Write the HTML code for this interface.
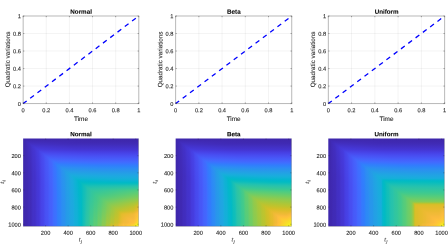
<!DOCTYPE html>
<html><head><meta charset="utf-8"><title>Figure</title><style>html,body{margin:0;padding:0;background:#fff}svg{display:block}text{stroke:#262626;stroke-width:0.1px}</style></head><body>
<svg width="448" height="252" viewBox="0 0 448 252" font-family="Liberation Sans, Arial, Helvetica, sans-serif" font-size="5.7" fill="#262626">
<rect width="448" height="252" fill="#fff"/>
<path d="M46.28 16V103.6M23.15 86.08H138.8M69.41 16V103.6M23.15 68.56H138.8M92.54 16V103.6M23.15 51.04H138.8M115.67 16V103.6M23.15 33.52H138.8" stroke="#262626" stroke-opacity="0.15" stroke-width="0.35" fill="none"/>
<path d="M23.15 103.6L135.91 18.19" stroke="#0000ff" stroke-width="1.3" stroke-dasharray="4.7 4.43" stroke-dashoffset="0.3" fill="none"/>
<rect x="23.15" y="16" width="115.65" height="87.6" fill="none" stroke="#262626" stroke-opacity="0.36" stroke-width="0.9"/>
<path d="M23.15 103.6v-1.2M23.15 16v1.2M23.15 103.6h1.2M138.8 103.6h-1.2M46.28 103.6v-1.2M46.28 16v1.2M23.15 86.08h1.2M138.8 86.08h-1.2M69.41 103.6v-1.2M69.41 16v1.2M23.15 68.56h1.2M138.8 68.56h-1.2M92.54 103.6v-1.2M92.54 16v1.2M23.15 51.04h1.2M138.8 51.04h-1.2M115.67 103.6v-1.2M115.67 16v1.2M23.15 33.52h1.2M138.8 33.52h-1.2M138.8 103.6v-1.2M138.8 16v1.2M23.15 16h1.2M138.8 16h-1.2" stroke="#262626" stroke-width="0.5" stroke-opacity="0.75" fill="none"/>
<text x="23.15" y="112.3" transform="rotate(0.1 23.15 112.3)" text-anchor="middle">0</text>
<text x="20.95" y="105.9" transform="rotate(0.1 20.95 105.9)" text-anchor="end">0</text>
<text x="46.28" y="112.3" transform="rotate(0.1 46.28 112.3)" text-anchor="middle">0.2</text>
<text x="20.95" y="88.38" transform="rotate(0.1 20.95 88.38)" text-anchor="end">0.2</text>
<text x="69.41" y="112.3" transform="rotate(0.1 69.41 112.3)" text-anchor="middle">0.4</text>
<text x="20.95" y="70.86" transform="rotate(0.1 20.95 70.86)" text-anchor="end">0.4</text>
<text x="92.54" y="112.3" transform="rotate(0.1 92.54 112.3)" text-anchor="middle">0.6</text>
<text x="20.95" y="53.34" transform="rotate(0.1 20.95 53.34)" text-anchor="end">0.6</text>
<text x="115.67" y="112.3" transform="rotate(0.1 115.67 112.3)" text-anchor="middle">0.8</text>
<text x="20.95" y="35.82" transform="rotate(0.1 20.95 35.82)" text-anchor="end">0.8</text>
<text x="138.8" y="112.3" transform="rotate(0.1 138.8 112.3)" text-anchor="middle">1</text>
<text x="20.95" y="18.3" transform="rotate(0.1 20.95 18.3)" text-anchor="end">1</text>
<text x="80.97" y="121.1" transform="rotate(0.1 80.97 121.1)" text-anchor="middle" font-size="6.4">Time</text>
<text transform="translate(9.85 59.45) rotate(-89.9)" text-anchor="middle" font-size="6.28">Quadratic variations</text>
<text x="81.12" y="13.7" transform="rotate(0.1 81.12 13.7)" text-anchor="middle" font-size="6.25" font-weight="bold" fill="#000">Normal</text>
<g>
<defs><linearGradient id="h0_1" gradientUnits="userSpaceOnUse" x1="24.46" y1="0" x2="138.5" y2="0"><stop offset="0" stop-color="#3f29b0"/><stop offset="1" stop-color="#3e27ac"/></linearGradient><linearGradient id="v0_1" href="#h0_1" x1="0" y1="139.55" x2="0" y2="226.35"/><linearGradient id="h0_2" gradientUnits="userSpaceOnUse" x1="25.77" y1="0" x2="138.5" y2="0"><stop offset="0" stop-color="#402bb6"/><stop offset="0.854" stop-color="#3f28ae"/><stop offset="1" stop-color="#3f28ae"/></linearGradient><linearGradient id="v0_2" href="#h0_2" x1="0" y1="140.55" x2="0" y2="226.35"/><linearGradient id="h0_3" gradientUnits="userSpaceOnUse" x1="27.08" y1="0" x2="138.5" y2="0"><stop offset="0" stop-color="#412cba"/><stop offset="0.559" stop-color="#3f29b1"/><stop offset="1" stop-color="#3f29b1"/></linearGradient><linearGradient id="v0_3" href="#h0_3" x1="0" y1="141.54" x2="0" y2="226.35"/><linearGradient id="h0_4" gradientUnits="userSpaceOnUse" x1="28.39" y1="0" x2="138.5" y2="0"><stop offset="0" stop-color="#422ebf"/><stop offset="0.463" stop-color="#402ab5"/><stop offset="1" stop-color="#402ab3"/></linearGradient><linearGradient id="v0_4" href="#h0_4" x1="0" y1="142.54" x2="0" y2="226.35"/><linearGradient id="h0_5" gradientUnits="userSpaceOnUse" x1="29.7" y1="0" x2="138.5" y2="0"><stop offset="0" stop-color="#4230c4"/><stop offset="0.365" stop-color="#412cb9"/><stop offset="1" stop-color="#402bb6"/></linearGradient><linearGradient id="v0_5" href="#h0_5" x1="0" y1="143.54" x2="0" y2="226.35"/><linearGradient id="h0_6" gradientUnits="userSpaceOnUse" x1="31.01" y1="0" x2="138.5" y2="0"><stop offset="0" stop-color="#4332c9"/><stop offset="0.369" stop-color="#412ebe"/><stop offset="1" stop-color="#412dbb"/></linearGradient><linearGradient id="v0_6" href="#h0_6" x1="0" y1="144.54" x2="0" y2="226.35"/><linearGradient id="h0_7" gradientUnits="userSpaceOnUse" x1="32.33" y1="0" x2="138.5" y2="0"><stop offset="0" stop-color="#4434ce"/><stop offset="0.374" stop-color="#4230c3"/><stop offset="1" stop-color="#422fc0"/></linearGradient><linearGradient id="v0_7" href="#h0_7" x1="0" y1="145.53" x2="0" y2="226.35"/><linearGradient id="h0_8" gradientUnits="userSpaceOnUse" x1="33.64" y1="0" x2="138.5" y2="0"><stop offset="0" stop-color="#4536d3"/><stop offset="0.378" stop-color="#4331c8"/><stop offset="1" stop-color="#4330c5"/></linearGradient><linearGradient id="v0_8" href="#h0_8" x1="0" y1="146.53" x2="0" y2="226.35"/><linearGradient id="h0_9" gradientUnits="userSpaceOnUse" x1="34.95" y1="0" x2="138.5" y2="0"><stop offset="0" stop-color="#4538d7"/><stop offset="0.383" stop-color="#4433cc"/><stop offset="1" stop-color="#4332ca"/></linearGradient><linearGradient id="v0_9" href="#h0_9" x1="0" y1="147.53" x2="0" y2="226.35"/><linearGradient id="h0_10" gradientUnits="userSpaceOnUse" x1="36.26" y1="0" x2="138.5" y2="0"><stop offset="0" stop-color="#463adb"/><stop offset="0.388" stop-color="#4435d1"/><stop offset="1" stop-color="#4434ce"/></linearGradient><linearGradient id="v0_10" href="#h0_10" x1="0" y1="148.53" x2="0" y2="226.35"/><linearGradient id="h0_11" gradientUnits="userSpaceOnUse" x1="37.57" y1="0" x2="138.5" y2="0"><stop offset="0" stop-color="#463ddf"/><stop offset="0.393" stop-color="#4537d6"/><stop offset="1" stop-color="#4536d4"/></linearGradient><linearGradient id="v0_11" href="#h0_11" x1="0" y1="149.53" x2="0" y2="226.35"/><linearGradient id="h0_12" gradientUnits="userSpaceOnUse" x1="38.88" y1="0" x2="138.5" y2="0"><stop offset="0" stop-color="#4741e5"/><stop offset="0.398" stop-color="#463bdd"/><stop offset="1" stop-color="#463adb"/></linearGradient><linearGradient id="v0_12" href="#h0_12" x1="0" y1="150.52" x2="0" y2="226.35"/><linearGradient id="h0_13" gradientUnits="userSpaceOnUse" x1="40.19" y1="0" x2="138.5" y2="0"><stop offset="0" stop-color="#4745e9"/><stop offset="0.404" stop-color="#473fe3"/><stop offset="1" stop-color="#463ee1"/></linearGradient><linearGradient id="v0_13" href="#h0_13" x1="0" y1="151.52" x2="0" y2="226.35"/><linearGradient id="h0_14" gradientUnits="userSpaceOnUse" x1="41.5" y1="0" x2="138.5" y2="0"><stop offset="0" stop-color="#484aed"/><stop offset="0.409" stop-color="#4744e8"/><stop offset="1" stop-color="#4742e6"/></linearGradient><linearGradient id="v0_14" href="#h0_14" x1="0" y1="152.52" x2="0" y2="226.35"/><linearGradient id="h0_15" gradientUnits="userSpaceOnUse" x1="42.81" y1="0" x2="138.5" y2="0"><stop offset="0" stop-color="#484ef1"/><stop offset="0.415" stop-color="#4848ec"/><stop offset="1" stop-color="#4746eb"/></linearGradient><linearGradient id="v0_15" href="#h0_15" x1="0" y1="153.52" x2="0" y2="226.35"/><linearGradient id="h0_16" gradientUnits="userSpaceOnUse" x1="44.12" y1="0" x2="138.5" y2="0"><stop offset="0" stop-color="#4852f4"/><stop offset="0.421" stop-color="#484cf0"/><stop offset="1" stop-color="#484bee"/></linearGradient><linearGradient id="v0_16" href="#h0_16" x1="0" y1="154.51" x2="0" y2="226.35"/><linearGradient id="h0_17" gradientUnits="userSpaceOnUse" x1="45.43" y1="0" x2="138.5" y2="0"><stop offset="0" stop-color="#4757f7"/><stop offset="0.427" stop-color="#4851f3"/><stop offset="1" stop-color="#484ff2"/></linearGradient><linearGradient id="v0_17" href="#h0_17" x1="0" y1="155.51" x2="0" y2="226.35"/><linearGradient id="h0_18" gradientUnits="userSpaceOnUse" x1="46.74" y1="0" x2="138.5" y2="0"><stop offset="0" stop-color="#475bf9"/><stop offset="0.433" stop-color="#4755f6"/><stop offset="1" stop-color="#4853f5"/></linearGradient><linearGradient id="v0_18" href="#h0_18" x1="0" y1="156.51" x2="0" y2="226.35"/><linearGradient id="h0_19" gradientUnits="userSpaceOnUse" x1="48.06" y1="0" x2="138.5" y2="0"><stop offset="0" stop-color="#465ffb"/><stop offset="0.439" stop-color="#4759f8"/><stop offset="1" stop-color="#4758f8"/></linearGradient><linearGradient id="v0_19" href="#h0_19" x1="0" y1="157.51" x2="0" y2="226.35"/><linearGradient id="h0_20" gradientUnits="userSpaceOnUse" x1="49.37" y1="0" x2="138.5" y2="0"><stop offset="0" stop-color="#4564fd"/><stop offset="0.446" stop-color="#465dfb"/><stop offset="1" stop-color="#475cfa"/></linearGradient><linearGradient id="v0_20" href="#h0_20" x1="0" y1="158.5" x2="0" y2="226.35"/><linearGradient id="h0_21" gradientUnits="userSpaceOnUse" x1="50.68" y1="0" x2="138.5" y2="0"><stop offset="0" stop-color="#4368fe"/><stop offset="0.452" stop-color="#4562fc"/><stop offset="1" stop-color="#4660fc"/></linearGradient><linearGradient id="v0_21" href="#h0_21" x1="0" y1="159.5" x2="0" y2="226.35"/><linearGradient id="h0_22" gradientUnits="userSpaceOnUse" x1="51.99" y1="0" x2="138.5" y2="0"><stop offset="0" stop-color="#406dfe"/><stop offset="0.459" stop-color="#4466fd"/><stop offset="1" stop-color="#4465fd"/></linearGradient><linearGradient id="v0_22" href="#h0_22" x1="0" y1="160.5" x2="0" y2="226.35"/><linearGradient id="h0_23" gradientUnits="userSpaceOnUse" x1="53.3" y1="0" x2="138.5" y2="0"><stop offset="0" stop-color="#3c72ff"/><stop offset="0.466" stop-color="#416bfe"/><stop offset="1" stop-color="#426afe"/></linearGradient><linearGradient id="v0_23" href="#h0_23" x1="0" y1="161.5" x2="0" y2="226.35"/><linearGradient id="h0_24" gradientUnits="userSpaceOnUse" x1="54.61" y1="0" x2="138.5" y2="0"><stop offset="0" stop-color="#3677fe"/><stop offset="0.474" stop-color="#3d70ff"/><stop offset="1" stop-color="#3e6fff"/></linearGradient><linearGradient id="v0_24" href="#h0_24" x1="0" y1="162.5" x2="0" y2="226.35"/><linearGradient id="h0_25" gradientUnits="userSpaceOnUse" x1="55.92" y1="0" x2="138.5" y2="0"><stop offset="0" stop-color="#327dfc"/><stop offset="0.481" stop-color="#3876fe"/><stop offset="1" stop-color="#3974fe"/></linearGradient><linearGradient id="v0_25" href="#h0_25" x1="0" y1="163.49" x2="0" y2="226.35"/><linearGradient id="h0_26" gradientUnits="userSpaceOnUse" x1="57.23" y1="0" x2="138.5" y2="0"><stop offset="0" stop-color="#2f82fa"/><stop offset="0.489" stop-color="#327bfc"/><stop offset="1" stop-color="#347afd"/></linearGradient><linearGradient id="v0_26" href="#h0_26" x1="0" y1="164.49" x2="0" y2="226.35"/><linearGradient id="h0_27" gradientUnits="userSpaceOnUse" x1="58.54" y1="0" x2="138.5" y2="0"><stop offset="0" stop-color="#2e86f7"/><stop offset="0.497" stop-color="#2f80fa"/><stop offset="1" stop-color="#307ffb"/></linearGradient><linearGradient id="v0_27" href="#h0_27" x1="0" y1="165.49" x2="0" y2="226.35"/><linearGradient id="h0_28" gradientUnits="userSpaceOnUse" x1="59.85" y1="0" x2="138.5" y2="0"><stop offset="0" stop-color="#2d8bf4"/><stop offset="0.506" stop-color="#2e85f8"/><stop offset="1" stop-color="#2e84f8"/></linearGradient><linearGradient id="v0_28" href="#h0_28" x1="0" y1="166.49" x2="0" y2="226.35"/><linearGradient id="h0_29" gradientUnits="userSpaceOnUse" x1="61.16" y1="0" x2="138.5" y2="0"><stop offset="0" stop-color="#2c90f0"/><stop offset="0.514" stop-color="#2d8af5"/><stop offset="1" stop-color="#2d89f6"/></linearGradient><linearGradient id="v0_29" href="#h0_29" x1="0" y1="167.48" x2="0" y2="226.35"/><linearGradient id="h0_30" gradientUnits="userSpaceOnUse" x1="62.47" y1="0" x2="138.5" y2="0"><stop offset="0" stop-color="#2994ed"/><stop offset="0.523" stop-color="#2c8ef1"/><stop offset="1" stop-color="#2d8df2"/></linearGradient><linearGradient id="v0_30" href="#h0_30" x1="0" y1="168.48" x2="0" y2="226.35"/><linearGradient id="h0_31" gradientUnits="userSpaceOnUse" x1="63.78" y1="0" x2="138.5" y2="0"><stop offset="0" stop-color="#2798ea"/><stop offset="0.532" stop-color="#2a92ee"/><stop offset="1" stop-color="#2b91ef"/></linearGradient><linearGradient id="v0_31" href="#h0_31" x1="0" y1="169.48" x2="0" y2="226.35"/><linearGradient id="h0_32" gradientUnits="userSpaceOnUse" x1="65.1" y1="0" x2="138.5" y2="0"><stop offset="0" stop-color="#259ce7"/><stop offset="0.542" stop-color="#2796eb"/><stop offset="1" stop-color="#2895ec"/></linearGradient><linearGradient id="v0_32" href="#h0_32" x1="0" y1="170.48" x2="0" y2="226.35"/><linearGradient id="h0_33" gradientUnits="userSpaceOnUse" x1="66.41" y1="0" x2="138.5" y2="0"><stop offset="0" stop-color="#249fe5"/><stop offset="0.552" stop-color="#269ae8"/><stop offset="1" stop-color="#2699e9"/></linearGradient><linearGradient id="v0_33" href="#h0_33" x1="0" y1="171.48" x2="0" y2="226.35"/><linearGradient id="h0_34" gradientUnits="userSpaceOnUse" x1="67.72" y1="0" x2="138.5" y2="0"><stop offset="0" stop-color="#21a3e3"/><stop offset="0.562" stop-color="#249ee6"/><stop offset="1" stop-color="#259de7"/></linearGradient><linearGradient id="v0_34" href="#h0_34" x1="0" y1="172.47" x2="0" y2="226.35"/><linearGradient id="h0_35" gradientUnits="userSpaceOnUse" x1="69.03" y1="0" x2="138.5" y2="0"><stop offset="0" stop-color="#1ea6e1"/><stop offset="0.573" stop-color="#22a1e4"/><stop offset="1" stop-color="#23a1e5"/></linearGradient><linearGradient id="v0_35" href="#h0_35" x1="0" y1="173.47" x2="0" y2="226.35"/><linearGradient id="h0_36" gradientUnits="userSpaceOnUse" x1="70.34" y1="0" x2="138.5" y2="0"><stop offset="0" stop-color="#1caadf"/><stop offset="0.584" stop-color="#20a5e2"/><stop offset="1" stop-color="#20a4e3"/></linearGradient><linearGradient id="v0_36" href="#h0_36" x1="0" y1="174.47" x2="0" y2="226.35"/><linearGradient id="h0_37" gradientUnits="userSpaceOnUse" x1="71.65" y1="0" x2="138.5" y2="0"><stop offset="0" stop-color="#19addc"/><stop offset="0.596" stop-color="#1da8e0"/><stop offset="1" stop-color="#1ea7e1"/></linearGradient><linearGradient id="v0_37" href="#h0_37" x1="0" y1="175.47" x2="0" y2="226.35"/><linearGradient id="h0_38" gradientUnits="userSpaceOnUse" x1="72.96" y1="0" x2="138.5" y2="0"><stop offset="0" stop-color="#15afd9"/><stop offset="0.608" stop-color="#1babde"/><stop offset="1" stop-color="#1caadf"/></linearGradient><linearGradient id="v0_38" href="#h0_38" x1="0" y1="176.46" x2="0" y2="226.35"/><linearGradient id="h0_39" gradientUnits="userSpaceOnUse" x1="74.27" y1="0" x2="138.5" y2="0"><stop offset="0" stop-color="#11b1d6"/><stop offset="0.62" stop-color="#18addb"/><stop offset="1" stop-color="#19addc"/></linearGradient><linearGradient id="v0_39" href="#h0_39" x1="0" y1="177.46" x2="0" y2="226.35"/><linearGradient id="h0_40" gradientUnits="userSpaceOnUse" x1="75.58" y1="0" x2="138.5" y2="0"><stop offset="0" stop-color="#0bb4d2"/><stop offset="0.633" stop-color="#14b0d8"/><stop offset="1" stop-color="#15afd9"/></linearGradient><linearGradient id="v0_40" href="#h0_40" x1="0" y1="178.46" x2="0" y2="226.35"/><linearGradient id="h0_41" gradientUnits="userSpaceOnUse" x1="76.89" y1="0" x2="138.5" y2="0"><stop offset="0" stop-color="#05b6ce"/><stop offset="0.647" stop-color="#0fb2d4"/><stop offset="1" stop-color="#10b2d5"/></linearGradient><linearGradient id="v0_41" href="#h0_41" x1="0" y1="179.46" x2="0" y2="226.35"/><linearGradient id="h0_42" gradientUnits="userSpaceOnUse" x1="78.2" y1="0" x2="138.5" y2="0"><stop offset="0" stop-color="#01b7ca"/><stop offset="0.661" stop-color="#08b4d1"/><stop offset="1" stop-color="#0ab4d1"/></linearGradient><linearGradient id="v0_42" href="#h0_42" x1="0" y1="180.45" x2="0" y2="226.35"/><linearGradient id="h0_43" gradientUnits="userSpaceOnUse" x1="79.51" y1="0" x2="138.5" y2="0"><stop offset="0" stop-color="#01b9c6"/><stop offset="0.676" stop-color="#03b7cb"/><stop offset="1" stop-color="#03b7cc"/></linearGradient><linearGradient id="v0_43" href="#h0_43" x1="0" y1="181.45" x2="0" y2="226.35"/><linearGradient id="h0_44" gradientUnits="userSpaceOnUse" x1="80.83" y1="0" x2="138.5" y2="0"><stop offset="0" stop-color="#03bbc2"/><stop offset="0.691" stop-color="#01bac5"/><stop offset="1" stop-color="#02bac4"/></linearGradient><linearGradient id="v0_44" href="#h0_44" x1="0" y1="182.45" x2="0" y2="226.35"/><linearGradient id="h0_45" gradientUnits="userSpaceOnUse" x1="82.14" y1="0" x2="138.5" y2="0"><stop offset="0" stop-color="#09bcbe"/><stop offset="0.911" stop-color="#0abdbd"/><stop offset="1" stop-color="#0bbdbd"/></linearGradient><linearGradient id="v0_45" href="#h0_45" x1="0" y1="183.45" x2="0" y2="226.35"/><linearGradient id="h0_46" gradientUnits="userSpaceOnUse" x1="83.45" y1="0" x2="138.5" y2="0"><stop offset="0" stop-color="#10beba"/><stop offset="0.94" stop-color="#19bfb5"/><stop offset="1" stop-color="#1ac0b5"/></linearGradient><linearGradient id="v0_46" href="#h0_46" x1="0" y1="184.45" x2="0" y2="226.35"/><linearGradient id="h0_47" gradientUnits="userSpaceOnUse" x1="84.76" y1="0" x2="138.5" y2="0"><stop offset="0" stop-color="#18bfb6"/><stop offset="1" stop-color="#26c2ac"/></linearGradient><linearGradient id="v0_47" href="#h0_47" x1="0" y1="185.44" x2="0" y2="226.35"/><linearGradient id="h0_48" gradientUnits="userSpaceOnUse" x1="86.07" y1="0" x2="138.5" y2="0"><stop offset="0" stop-color="#1fc0b2"/><stop offset="1" stop-color="#2ec5a4"/></linearGradient><linearGradient id="v0_48" href="#h0_48" x1="0" y1="186.44" x2="0" y2="226.35"/><linearGradient id="h0_49" gradientUnits="userSpaceOnUse" x1="87.38" y1="0" x2="138.5" y2="0"><stop offset="0" stop-color="#25c2ad"/><stop offset="1" stop-color="#35c79b"/></linearGradient><linearGradient id="v0_49" href="#h0_49" x1="0" y1="187.44" x2="0" y2="226.35"/><linearGradient id="h0_50" gradientUnits="userSpaceOnUse" x1="88.69" y1="0" x2="138.5" y2="0"><stop offset="0" stop-color="#2ac3a9"/><stop offset="1" stop-color="#3dc991"/></linearGradient><linearGradient id="v0_50" href="#h0_50" x1="0" y1="188.44" x2="0" y2="226.35"/><linearGradient id="h0_51" gradientUnits="userSpaceOnUse" x1="90" y1="0" x2="138.5" y2="0"><stop offset="0" stop-color="#2ec4a5"/><stop offset="1" stop-color="#48cb86"/></linearGradient><linearGradient id="v0_51" href="#h0_51" x1="0" y1="189.43" x2="0" y2="226.35"/><linearGradient id="h0_52" gradientUnits="userSpaceOnUse" x1="91.31" y1="0" x2="138.5" y2="0"><stop offset="0" stop-color="#31c6a0"/><stop offset="1" stop-color="#51cc7f"/></linearGradient><linearGradient id="v0_52" href="#h0_52" x1="0" y1="190.43" x2="0" y2="226.35"/><linearGradient id="h0_53" gradientUnits="userSpaceOnUse" x1="92.62" y1="0" x2="138.5" y2="0"><stop offset="0" stop-color="#34c79b"/><stop offset="1" stop-color="#58cc79"/></linearGradient><linearGradient id="v0_53" href="#h0_53" x1="0" y1="191.43" x2="0" y2="226.35"/><linearGradient id="h0_54" gradientUnits="userSpaceOnUse" x1="93.93" y1="0" x2="138.5" y2="0"><stop offset="0" stop-color="#37c897"/><stop offset="1" stop-color="#5fcd73"/></linearGradient><linearGradient id="v0_54" href="#h0_54" x1="0" y1="192.43" x2="0" y2="226.35"/><linearGradient id="h0_55" gradientUnits="userSpaceOnUse" x1="95.24" y1="0" x2="138.5" y2="0"><stop offset="0" stop-color="#3bc993"/><stop offset="1" stop-color="#65cd6e"/></linearGradient><linearGradient id="v0_55" href="#h0_55" x1="0" y1="193.43" x2="0" y2="226.35"/><linearGradient id="h0_56" gradientUnits="userSpaceOnUse" x1="96.55" y1="0" x2="138.5" y2="0"><stop offset="0" stop-color="#3fca8e"/><stop offset="1" stop-color="#6ccd68"/></linearGradient><linearGradient id="v0_56" href="#h0_56" x1="0" y1="194.42" x2="0" y2="226.35"/><linearGradient id="h0_57" gradientUnits="userSpaceOnUse" x1="97.87" y1="0" x2="138.5" y2="0"><stop offset="0" stop-color="#44cb89"/><stop offset="1" stop-color="#73cd62"/></linearGradient><linearGradient id="v0_57" href="#h0_57" x1="0" y1="195.42" x2="0" y2="226.35"/><linearGradient id="h0_58" gradientUnits="userSpaceOnUse" x1="99.18" y1="0" x2="138.5" y2="0"><stop offset="0" stop-color="#4acb85"/><stop offset="1" stop-color="#7bcc5d"/></linearGradient><linearGradient id="v0_58" href="#h0_58" x1="0" y1="196.42" x2="0" y2="226.35"/><linearGradient id="h0_59" gradientUnits="userSpaceOnUse" x1="100.49" y1="0" x2="138.5" y2="0"><stop offset="0" stop-color="#50cc80"/><stop offset="1" stop-color="#83cc57"/></linearGradient><linearGradient id="v0_59" href="#h0_59" x1="0" y1="197.42" x2="0" y2="226.35"/><linearGradient id="h0_60" gradientUnits="userSpaceOnUse" x1="101.8" y1="0" x2="138.5" y2="0"><stop offset="0" stop-color="#57cc7a"/><stop offset="1" stop-color="#8ccb50"/></linearGradient><linearGradient id="v0_60" href="#h0_60" x1="0" y1="198.41" x2="0" y2="226.35"/><linearGradient id="h0_61" gradientUnits="userSpaceOnUse" x1="103.11" y1="0" x2="138.5" y2="0"><stop offset="0" stop-color="#5ecd74"/><stop offset="0.955" stop-color="#93ca4b"/><stop offset="1" stop-color="#97ca47"/></linearGradient><linearGradient id="v0_61" href="#h0_61" x1="0" y1="199.41" x2="0" y2="226.35"/><linearGradient id="h0_62" gradientUnits="userSpaceOnUse" x1="104.42" y1="0" x2="138.5" y2="0"><stop offset="0" stop-color="#66cd6d"/><stop offset="0.902" stop-color="#97ca47"/><stop offset="1" stop-color="#a3c83f"/></linearGradient><linearGradient id="v0_62" href="#h0_62" x1="0" y1="200.41" x2="0" y2="226.35"/><linearGradient id="h0_63" gradientUnits="userSpaceOnUse" x1="105.73" y1="0" x2="138.5" y2="0"><stop offset="0" stop-color="#6ecd67"/><stop offset="0.898" stop-color="#a0c841"/><stop offset="1" stop-color="#aec637"/></linearGradient><linearGradient id="v0_63" href="#h0_63" x1="0" y1="201.41" x2="0" y2="226.35"/><linearGradient id="h0_64" gradientUnits="userSpaceOnUse" x1="107.04" y1="0" x2="138.5" y2="0"><stop offset="0" stop-color="#77cc60"/><stop offset="0.894" stop-color="#a9c73a"/><stop offset="1" stop-color="#b9c431"/></linearGradient><linearGradient id="v0_64" href="#h0_64" x1="0" y1="202.4" x2="0" y2="226.35"/><linearGradient id="h0_65" gradientUnits="userSpaceOnUse" x1="108.35" y1="0" x2="138.5" y2="0"><stop offset="0" stop-color="#7fcc5a"/><stop offset="0.889" stop-color="#b1c635"/><stop offset="1" stop-color="#c3c22b"/></linearGradient><linearGradient id="v0_65" href="#h0_65" x1="0" y1="203.4" x2="0" y2="226.35"/><linearGradient id="h0_66" gradientUnits="userSpaceOnUse" x1="109.66" y1="0" x2="138.5" y2="0"><stop offset="0" stop-color="#88cb53"/><stop offset="0.824" stop-color="#b3c534"/><stop offset="1" stop-color="#cdc028"/></linearGradient><linearGradient id="v0_66" href="#h0_66" x1="0" y1="204.4" x2="0" y2="226.35"/><linearGradient id="h0_67" gradientUnits="userSpaceOnUse" x1="110.97" y1="0" x2="138.5" y2="0"><stop offset="0" stop-color="#90ca4d"/><stop offset="0.816" stop-color="#bac430"/><stop offset="1" stop-color="#d7be28"/></linearGradient><linearGradient id="v0_67" href="#h0_67" x1="0" y1="205.4" x2="0" y2="226.35"/><linearGradient id="h0_68" gradientUnits="userSpaceOnUse" x1="112.28" y1="0" x2="138.5" y2="0"><stop offset="0" stop-color="#99c946"/><stop offset="0.806" stop-color="#c2c22c"/><stop offset="0.938" stop-color="#d4bf28"/><stop offset="1" stop-color="#e0bc2a"/></linearGradient><linearGradient id="v0_68" href="#h0_68" x1="0" y1="206.4" x2="0" y2="226.35"/><linearGradient id="h0_69" gradientUnits="userSpaceOnUse" x1="113.59" y1="0" x2="138.5" y2="0"><stop offset="0" stop-color="#a2c840"/><stop offset="0.796" stop-color="#c7c12a"/><stop offset="0.935" stop-color="#dabd28"/><stop offset="1" stop-color="#e5bb2d"/></linearGradient><linearGradient id="v0_69" href="#h0_69" x1="0" y1="207.39" x2="0" y2="226.35"/><linearGradient id="h0_70" gradientUnits="userSpaceOnUse" x1="114.91" y1="0" x2="138.5" y2="0"><stop offset="0" stop-color="#aac739"/><stop offset="0.835" stop-color="#d0bf27"/><stop offset="1" stop-color="#eaba31"/></linearGradient><linearGradient id="v0_70" href="#h0_70" x1="0" y1="208.39" x2="0" y2="226.35"/><linearGradient id="h0_71" gradientUnits="userSpaceOnUse" x1="116.22" y1="0" x2="138.5" y2="0"><stop offset="0" stop-color="#b3c534"/><stop offset="0.771" stop-color="#d0c028"/><stop offset="0.927" stop-color="#e3bc2c"/><stop offset="1" stop-color="#eeba35"/></linearGradient><linearGradient id="v0_71" href="#h0_71" x1="0" y1="209.39" x2="0" y2="226.35"/><linearGradient id="h0_72" gradientUnits="userSpaceOnUse" x1="117.53" y1="0" x2="138.5" y2="0"><stop offset="0" stop-color="#bdc32e"/><stop offset="0.756" stop-color="#d5be28"/><stop offset="0.943" stop-color="#ebba32"/><stop offset="1" stop-color="#f4ba39"/></linearGradient><linearGradient id="v0_72" href="#h0_72" x1="0" y1="210.39" x2="0" y2="226.35"/><linearGradient id="h0_73" gradientUnits="userSpaceOnUse" x1="118.84" y1="0" x2="138.5" y2="0"><stop offset="0" stop-color="#cac129"/><stop offset="0.739" stop-color="#debc2a"/><stop offset="0.917" stop-color="#f1ba36"/><stop offset="1" stop-color="#fbbc3d"/></linearGradient><linearGradient id="v0_73" href="#h0_73" x1="0" y1="211.38" x2="0" y2="226.35"/><linearGradient id="h0_74" gradientUnits="userSpaceOnUse" x1="120.15" y1="0" x2="138.5" y2="0"><stop offset="0" stop-color="#d7be28"/><stop offset="0.764" stop-color="#e9bb30"/><stop offset="1" stop-color="#fec03b"/></linearGradient><linearGradient id="v0_74" href="#h0_74" x1="0" y1="212.38" x2="0" y2="226.35"/><linearGradient id="h0_75" gradientUnits="userSpaceOnUse" x1="121.46" y1="0" x2="138.5" y2="0"><stop offset="0" stop-color="#e3bc2c"/><stop offset="0.698" stop-color="#efba35"/><stop offset="0.904" stop-color="#fdbd3d"/><stop offset="1" stop-color="#fec537"/></linearGradient><linearGradient id="v0_75" href="#h0_75" x1="0" y1="213.38" x2="0" y2="226.35"/><linearGradient id="h0_76" gradientUnits="userSpaceOnUse" x1="122.77" y1="0" x2="138.5" y2="0"><stop offset="0" stop-color="#e8bb2f"/><stop offset="0.671" stop-color="#f1ba37"/><stop offset="0.895" stop-color="#febf3c"/><stop offset="1" stop-color="#fec735"/></linearGradient><linearGradient id="v0_76" href="#h0_76" x1="0" y1="214.38" x2="0" y2="226.35"/><linearGradient id="h0_77" gradientUnits="userSpaceOnUse" x1="124.08" y1="0" x2="138.5" y2="0"><stop offset="0" stop-color="#ecba32"/><stop offset="0.696" stop-color="#f4ba3a"/><stop offset="0.982" stop-color="#fec735"/><stop offset="1" stop-color="#fec834"/></linearGradient><linearGradient id="v0_77" href="#h0_77" x1="0" y1="215.38" x2="0" y2="226.35"/><linearGradient id="h0_78" gradientUnits="userSpaceOnUse" x1="125.39" y1="0" x2="138.5" y2="0"><stop offset="0" stop-color="#f0ba36"/><stop offset="0.602" stop-color="#f3ba39"/><stop offset="0.769" stop-color="#fbbc3d"/><stop offset="1" stop-color="#fdcb33"/></linearGradient><linearGradient id="v0_78" href="#h0_78" x1="0" y1="216.37" x2="0" y2="226.35"/><linearGradient id="h0_79" gradientUnits="userSpaceOnUse" x1="126.7" y1="0" x2="138.5" y2="0"><stop offset="0" stop-color="#f4ba39"/><stop offset="0.607" stop-color="#f6ba3b"/><stop offset="0.859" stop-color="#fec339"/><stop offset="1" stop-color="#fdcd32"/></linearGradient><linearGradient id="v0_79" href="#h0_79" x1="0" y1="217.37" x2="0" y2="226.35"/><linearGradient id="h0_80" gradientUnits="userSpaceOnUse" x1="128.01" y1="0" x2="138.5" y2="0"><stop offset="0" stop-color="#f7ba3c"/><stop offset="0.496" stop-color="#f7ba3c"/><stop offset="0.688" stop-color="#fdbd3d"/><stop offset="1" stop-color="#fcd12f"/></linearGradient><linearGradient id="v0_80" href="#h0_80" x1="0" y1="218.37" x2="0" y2="226.35"/><linearGradient id="h0_81" gradientUnits="userSpaceOnUse" x1="129.32" y1="0" x2="138.5" y2="0"><stop offset="0" stop-color="#fabb3d"/><stop offset="0.418" stop-color="#fabb3d"/><stop offset="0.617" stop-color="#febf3b"/><stop offset="1" stop-color="#fad62d"/></linearGradient><linearGradient id="v0_81" href="#h0_81" x1="0" y1="219.37" x2="0" y2="226.35"/><linearGradient id="h0_82" gradientUnits="userSpaceOnUse" x1="130.64" y1="0" x2="138.5" y2="0"><stop offset="0" stop-color="#fcbc3d"/><stop offset="0.391" stop-color="#fdbd3d"/><stop offset="0.781" stop-color="#fdcd32"/><stop offset="1" stop-color="#f7db2b"/></linearGradient><linearGradient id="v0_82" href="#h0_82" x1="0" y1="220.36" x2="0" y2="226.35"/><linearGradient id="h0_83" gradientUnits="userSpaceOnUse" x1="131.95" y1="0" x2="138.5" y2="0"><stop offset="0" stop-color="#febe3c"/><stop offset="0.229" stop-color="#febf3b"/><stop offset="0.477" stop-color="#fec537"/><stop offset="1" stop-color="#f6df29"/></linearGradient><linearGradient id="v0_83" href="#h0_83" x1="0" y1="221.36" x2="0" y2="226.35"/><linearGradient id="h0_84" gradientUnits="userSpaceOnUse" x1="133.26" y1="0" x2="138.5" y2="0"><stop offset="0" stop-color="#fec13a"/><stop offset="0.295" stop-color="#fec735"/><stop offset="0.656" stop-color="#fad42e"/><stop offset="1" stop-color="#f5e426"/></linearGradient><linearGradient id="v0_84" href="#h0_84" x1="0" y1="222.36" x2="0" y2="226.35"/><linearGradient id="h0_85" gradientUnits="userSpaceOnUse" x1="134.57" y1="0" x2="138.5" y2="0"><stop offset="0" stop-color="#f9d82c"/><stop offset="0.859" stop-color="#f6f11e"/><stop offset="1" stop-color="#f7f61a"/></linearGradient><linearGradient id="v0_85" href="#h0_85" x1="0" y1="223.36" x2="0" y2="226.35"/><linearGradient id="h0_86" gradientUnits="userSpaceOnUse" x1="135.88" y1="0" x2="138.5" y2="0"><stop offset="0" stop-color="#f5ee21"/><stop offset="1" stop-color="#f9fb15"/></linearGradient><linearGradient id="v0_86" href="#h0_86" x1="0" y1="224.35" x2="0" y2="226.35"/><linearGradient id="h0_87" gradientUnits="userSpaceOnUse" x1="137.19" y1="0" x2="138.5" y2="0"><stop offset="0" stop-color="#f7f41c"/><stop offset="1" stop-color="#f7f51b"/></linearGradient><linearGradient id="v0_87" href="#h0_87" x1="0" y1="225.35" x2="0" y2="226.35"/></defs>
<rect x="21.65" y="137.05" width="118.35" height="90.8" fill="#3e27ab"/>
<rect x="24.46" y="139.55" width="115.54" height="88.3" fill="url(#h0_1)"/>
<rect x="24.46" y="140.55" width="2.62" height="86.8" fill="url(#v0_1)"/>
<rect x="25.77" y="140.55" width="114.23" height="87.3" fill="url(#h0_2)"/>
<rect x="25.77" y="141.54" width="2.62" height="85.81" fill="url(#v0_2)"/>
<rect x="27.08" y="141.54" width="112.92" height="86.31" fill="url(#h0_3)"/>
<rect x="27.08" y="142.54" width="2.62" height="84.81" fill="url(#v0_3)"/>
<rect x="28.39" y="142.54" width="111.61" height="85.31" fill="url(#h0_4)"/>
<rect x="28.39" y="143.54" width="2.62" height="83.81" fill="url(#v0_4)"/>
<rect x="29.7" y="143.54" width="110.3" height="84.31" fill="url(#h0_5)"/>
<rect x="29.7" y="144.54" width="2.62" height="82.81" fill="url(#v0_5)"/>
<rect x="31.01" y="144.54" width="108.99" height="83.31" fill="url(#h0_6)"/>
<rect x="31.01" y="145.53" width="2.62" height="81.82" fill="url(#v0_6)"/>
<rect x="32.33" y="145.53" width="107.67" height="82.32" fill="url(#h0_7)"/>
<rect x="32.33" y="146.53" width="2.62" height="80.82" fill="url(#v0_7)"/>
<rect x="33.64" y="146.53" width="106.36" height="81.32" fill="url(#h0_8)"/>
<rect x="33.64" y="147.53" width="2.62" height="79.82" fill="url(#v0_8)"/>
<rect x="34.95" y="147.53" width="105.05" height="80.32" fill="url(#h0_9)"/>
<rect x="34.95" y="148.53" width="2.62" height="78.82" fill="url(#v0_9)"/>
<rect x="36.26" y="148.53" width="103.74" height="79.32" fill="url(#h0_10)"/>
<rect x="36.26" y="149.53" width="2.62" height="77.82" fill="url(#v0_10)"/>
<rect x="37.57" y="149.53" width="102.43" height="78.32" fill="url(#h0_11)"/>
<rect x="37.57" y="150.52" width="2.62" height="76.83" fill="url(#v0_11)"/>
<rect x="38.88" y="150.52" width="101.12" height="77.33" fill="url(#h0_12)"/>
<rect x="38.88" y="151.52" width="2.62" height="75.83" fill="url(#v0_12)"/>
<rect x="40.19" y="151.52" width="99.81" height="76.33" fill="url(#h0_13)"/>
<rect x="40.19" y="152.52" width="2.62" height="74.83" fill="url(#v0_13)"/>
<rect x="41.5" y="152.52" width="98.5" height="75.33" fill="url(#h0_14)"/>
<rect x="41.5" y="153.52" width="2.62" height="73.83" fill="url(#v0_14)"/>
<rect x="42.81" y="153.52" width="97.19" height="74.33" fill="url(#h0_15)"/>
<rect x="42.81" y="154.51" width="2.62" height="72.84" fill="url(#v0_15)"/>
<rect x="44.12" y="154.51" width="95.88" height="73.34" fill="url(#h0_16)"/>
<rect x="44.12" y="155.51" width="2.62" height="71.84" fill="url(#v0_16)"/>
<rect x="45.43" y="155.51" width="94.57" height="72.34" fill="url(#h0_17)"/>
<rect x="45.43" y="156.51" width="2.62" height="70.84" fill="url(#v0_17)"/>
<rect x="46.74" y="156.51" width="93.26" height="71.34" fill="url(#h0_18)"/>
<rect x="46.74" y="157.51" width="2.62" height="69.84" fill="url(#v0_18)"/>
<rect x="48.06" y="157.51" width="91.94" height="70.34" fill="url(#h0_19)"/>
<rect x="48.06" y="158.5" width="2.62" height="68.85" fill="url(#v0_19)"/>
<rect x="49.37" y="158.5" width="90.63" height="69.35" fill="url(#h0_20)"/>
<rect x="49.37" y="159.5" width="2.62" height="67.85" fill="url(#v0_20)"/>
<rect x="50.68" y="159.5" width="89.32" height="68.35" fill="url(#h0_21)"/>
<rect x="50.68" y="160.5" width="2.62" height="66.85" fill="url(#v0_21)"/>
<rect x="51.99" y="160.5" width="88.01" height="67.35" fill="url(#h0_22)"/>
<rect x="51.99" y="161.5" width="2.62" height="65.85" fill="url(#v0_22)"/>
<rect x="53.3" y="161.5" width="86.7" height="66.35" fill="url(#h0_23)"/>
<rect x="53.3" y="162.5" width="2.62" height="64.85" fill="url(#v0_23)"/>
<rect x="54.61" y="162.5" width="85.39" height="65.35" fill="url(#h0_24)"/>
<rect x="54.61" y="163.49" width="2.62" height="63.86" fill="url(#v0_24)"/>
<rect x="55.92" y="163.49" width="84.08" height="64.36" fill="url(#h0_25)"/>
<rect x="55.92" y="164.49" width="2.62" height="62.86" fill="url(#v0_25)"/>
<rect x="57.23" y="164.49" width="82.77" height="63.36" fill="url(#h0_26)"/>
<rect x="57.23" y="165.49" width="2.62" height="61.86" fill="url(#v0_26)"/>
<rect x="58.54" y="165.49" width="81.46" height="62.36" fill="url(#h0_27)"/>
<rect x="58.54" y="166.49" width="2.62" height="60.86" fill="url(#v0_27)"/>
<rect x="59.85" y="166.49" width="80.15" height="61.36" fill="url(#h0_28)"/>
<rect x="59.85" y="167.48" width="2.62" height="59.87" fill="url(#v0_28)"/>
<rect x="61.16" y="167.48" width="78.84" height="60.37" fill="url(#h0_29)"/>
<rect x="61.16" y="168.48" width="2.62" height="58.87" fill="url(#v0_29)"/>
<rect x="62.47" y="168.48" width="77.53" height="59.37" fill="url(#h0_30)"/>
<rect x="62.47" y="169.48" width="2.62" height="57.87" fill="url(#v0_30)"/>
<rect x="63.78" y="169.48" width="76.22" height="58.37" fill="url(#h0_31)"/>
<rect x="63.78" y="170.48" width="2.62" height="56.87" fill="url(#v0_31)"/>
<rect x="65.1" y="170.48" width="74.9" height="57.37" fill="url(#h0_32)"/>
<rect x="65.1" y="171.48" width="2.62" height="55.87" fill="url(#v0_32)"/>
<rect x="66.41" y="171.48" width="73.59" height="56.37" fill="url(#h0_33)"/>
<rect x="66.41" y="172.47" width="2.62" height="54.88" fill="url(#v0_33)"/>
<rect x="67.72" y="172.47" width="72.28" height="55.38" fill="url(#h0_34)"/>
<rect x="67.72" y="173.47" width="2.62" height="53.88" fill="url(#v0_34)"/>
<rect x="69.03" y="173.47" width="70.97" height="54.38" fill="url(#h0_35)"/>
<rect x="69.03" y="174.47" width="2.62" height="52.88" fill="url(#v0_35)"/>
<rect x="70.34" y="174.47" width="69.66" height="53.38" fill="url(#h0_36)"/>
<rect x="70.34" y="175.47" width="2.62" height="51.88" fill="url(#v0_36)"/>
<rect x="71.65" y="175.47" width="68.35" height="52.38" fill="url(#h0_37)"/>
<rect x="71.65" y="176.46" width="2.62" height="50.89" fill="url(#v0_37)"/>
<rect x="72.96" y="176.46" width="67.04" height="51.39" fill="url(#h0_38)"/>
<rect x="72.96" y="177.46" width="2.62" height="49.89" fill="url(#v0_38)"/>
<rect x="74.27" y="177.46" width="65.73" height="50.39" fill="url(#h0_39)"/>
<rect x="74.27" y="178.46" width="2.62" height="48.89" fill="url(#v0_39)"/>
<rect x="75.58" y="178.46" width="64.42" height="49.39" fill="url(#h0_40)"/>
<rect x="75.58" y="179.46" width="2.62" height="47.89" fill="url(#v0_40)"/>
<rect x="76.89" y="179.46" width="63.11" height="48.39" fill="url(#h0_41)"/>
<rect x="76.89" y="180.45" width="2.62" height="46.9" fill="url(#v0_41)"/>
<rect x="78.2" y="180.45" width="61.8" height="47.4" fill="url(#h0_42)"/>
<rect x="78.2" y="181.45" width="2.62" height="45.9" fill="url(#v0_42)"/>
<rect x="79.51" y="181.45" width="60.49" height="46.4" fill="url(#h0_43)"/>
<rect x="79.51" y="182.45" width="2.62" height="44.9" fill="url(#v0_43)"/>
<rect x="80.83" y="182.45" width="59.17" height="45.4" fill="url(#h0_44)"/>
<rect x="80.83" y="183.45" width="2.62" height="43.9" fill="url(#v0_44)"/>
<rect x="82.14" y="183.45" width="57.86" height="44.4" fill="url(#h0_45)"/>
<rect x="82.14" y="184.45" width="2.62" height="42.9" fill="url(#v0_45)"/>
<rect x="83.45" y="184.45" width="56.55" height="43.4" fill="url(#h0_46)"/>
<rect x="83.45" y="185.44" width="2.62" height="41.91" fill="url(#v0_46)"/>
<rect x="84.76" y="185.44" width="55.24" height="42.41" fill="url(#h0_47)"/>
<rect x="84.76" y="186.44" width="2.62" height="40.91" fill="url(#v0_47)"/>
<rect x="86.07" y="186.44" width="53.93" height="41.41" fill="url(#h0_48)"/>
<rect x="86.07" y="187.44" width="2.62" height="39.91" fill="url(#v0_48)"/>
<rect x="87.38" y="187.44" width="52.62" height="40.41" fill="url(#h0_49)"/>
<rect x="87.38" y="188.44" width="2.62" height="38.91" fill="url(#v0_49)"/>
<rect x="88.69" y="188.44" width="51.31" height="39.41" fill="url(#h0_50)"/>
<rect x="88.69" y="189.43" width="2.62" height="37.92" fill="url(#v0_50)"/>
<rect x="90" y="189.43" width="50" height="38.42" fill="url(#h0_51)"/>
<rect x="90" y="190.43" width="2.62" height="36.92" fill="url(#v0_51)"/>
<rect x="91.31" y="190.43" width="48.69" height="37.42" fill="url(#h0_52)"/>
<rect x="91.31" y="191.43" width="2.62" height="35.92" fill="url(#v0_52)"/>
<rect x="92.62" y="191.43" width="47.38" height="36.42" fill="url(#h0_53)"/>
<rect x="92.62" y="192.43" width="2.62" height="34.92" fill="url(#v0_53)"/>
<rect x="93.93" y="192.43" width="46.07" height="35.42" fill="url(#h0_54)"/>
<rect x="93.93" y="193.43" width="2.62" height="33.92" fill="url(#v0_54)"/>
<rect x="95.24" y="193.43" width="44.76" height="34.42" fill="url(#h0_55)"/>
<rect x="95.24" y="194.42" width="2.62" height="32.93" fill="url(#v0_55)"/>
<rect x="96.55" y="194.42" width="43.45" height="33.43" fill="url(#h0_56)"/>
<rect x="96.55" y="195.42" width="2.62" height="31.93" fill="url(#v0_56)"/>
<rect x="97.87" y="195.42" width="42.13" height="32.43" fill="url(#h0_57)"/>
<rect x="97.87" y="196.42" width="2.62" height="30.93" fill="url(#v0_57)"/>
<rect x="99.18" y="196.42" width="40.82" height="31.43" fill="url(#h0_58)"/>
<rect x="99.18" y="197.42" width="2.62" height="29.93" fill="url(#v0_58)"/>
<rect x="100.49" y="197.42" width="39.51" height="30.43" fill="url(#h0_59)"/>
<rect x="100.49" y="198.41" width="2.62" height="28.94" fill="url(#v0_59)"/>
<rect x="101.8" y="198.41" width="38.2" height="29.44" fill="url(#h0_60)"/>
<rect x="101.8" y="199.41" width="2.62" height="27.94" fill="url(#v0_60)"/>
<rect x="103.11" y="199.41" width="36.89" height="28.44" fill="url(#h0_61)"/>
<rect x="103.11" y="200.41" width="2.62" height="26.94" fill="url(#v0_61)"/>
<rect x="104.42" y="200.41" width="35.58" height="27.44" fill="url(#h0_62)"/>
<rect x="104.42" y="201.41" width="2.62" height="25.94" fill="url(#v0_62)"/>
<rect x="105.73" y="201.41" width="34.27" height="26.44" fill="url(#h0_63)"/>
<rect x="105.73" y="202.4" width="2.62" height="24.95" fill="url(#v0_63)"/>
<rect x="107.04" y="202.4" width="32.96" height="25.45" fill="url(#h0_64)"/>
<rect x="107.04" y="203.4" width="2.62" height="23.95" fill="url(#v0_64)"/>
<rect x="108.35" y="203.4" width="31.65" height="24.45" fill="url(#h0_65)"/>
<rect x="108.35" y="204.4" width="2.62" height="22.95" fill="url(#v0_65)"/>
<rect x="109.66" y="204.4" width="30.34" height="23.45" fill="url(#h0_66)"/>
<rect x="109.66" y="205.4" width="2.62" height="21.95" fill="url(#v0_66)"/>
<rect x="110.97" y="205.4" width="29.03" height="22.45" fill="url(#h0_67)"/>
<rect x="110.97" y="206.4" width="2.62" height="20.95" fill="url(#v0_67)"/>
<rect x="112.28" y="206.4" width="27.72" height="21.45" fill="url(#h0_68)"/>
<rect x="112.28" y="207.39" width="2.62" height="19.96" fill="url(#v0_68)"/>
<rect x="113.59" y="207.39" width="26.41" height="20.46" fill="url(#h0_69)"/>
<rect x="113.59" y="208.39" width="2.62" height="18.96" fill="url(#v0_69)"/>
<rect x="114.91" y="208.39" width="25.09" height="19.46" fill="url(#h0_70)"/>
<rect x="114.91" y="209.39" width="2.62" height="17.96" fill="url(#v0_70)"/>
<rect x="116.22" y="209.39" width="23.78" height="18.46" fill="url(#h0_71)"/>
<rect x="116.22" y="210.39" width="2.62" height="16.96" fill="url(#v0_71)"/>
<rect x="117.53" y="210.39" width="22.47" height="17.46" fill="url(#h0_72)"/>
<rect x="117.53" y="211.38" width="2.62" height="15.97" fill="url(#v0_72)"/>
<rect x="118.84" y="211.38" width="21.16" height="16.47" fill="url(#h0_73)"/>
<rect x="118.84" y="212.38" width="2.62" height="14.97" fill="url(#v0_73)"/>
<rect x="120.15" y="212.38" width="19.85" height="15.47" fill="url(#h0_74)"/>
<rect x="120.15" y="213.38" width="2.62" height="13.97" fill="url(#v0_74)"/>
<rect x="121.46" y="213.38" width="18.54" height="14.47" fill="url(#h0_75)"/>
<rect x="121.46" y="214.38" width="2.62" height="12.97" fill="url(#v0_75)"/>
<rect x="122.77" y="214.38" width="17.23" height="13.47" fill="url(#h0_76)"/>
<rect x="122.77" y="215.38" width="2.62" height="11.97" fill="url(#v0_76)"/>
<rect x="124.08" y="215.38" width="15.92" height="12.47" fill="url(#h0_77)"/>
<rect x="124.08" y="216.37" width="2.62" height="10.98" fill="url(#v0_77)"/>
<rect x="125.39" y="216.37" width="14.61" height="11.48" fill="url(#h0_78)"/>
<rect x="125.39" y="217.37" width="2.62" height="9.98" fill="url(#v0_78)"/>
<rect x="126.7" y="217.37" width="13.3" height="10.48" fill="url(#h0_79)"/>
<rect x="126.7" y="218.37" width="2.62" height="8.98" fill="url(#v0_79)"/>
<rect x="128.01" y="218.37" width="11.99" height="9.48" fill="url(#h0_80)"/>
<rect x="128.01" y="219.37" width="2.62" height="7.98" fill="url(#v0_80)"/>
<rect x="129.32" y="219.37" width="10.68" height="8.48" fill="url(#h0_81)"/>
<rect x="129.32" y="220.36" width="2.62" height="6.99" fill="url(#v0_81)"/>
<rect x="130.64" y="220.36" width="9.36" height="7.49" fill="url(#h0_82)"/>
<rect x="130.64" y="221.36" width="2.62" height="5.99" fill="url(#v0_82)"/>
<rect x="131.95" y="221.36" width="8.05" height="6.49" fill="url(#h0_83)"/>
<rect x="131.95" y="222.36" width="2.62" height="4.99" fill="url(#v0_83)"/>
<rect x="133.26" y="222.36" width="6.74" height="5.49" fill="url(#h0_84)"/>
<rect x="133.26" y="223.36" width="2.62" height="3.99" fill="url(#v0_84)"/>
<rect x="134.57" y="223.36" width="5.43" height="4.49" fill="url(#h0_85)"/>
<rect x="134.57" y="224.35" width="2.62" height="3" fill="url(#v0_85)"/>
<rect x="135.88" y="224.35" width="4.12" height="3.5" fill="url(#h0_86)"/>
<rect x="135.88" y="225.35" width="2.62" height="2" fill="url(#v0_86)"/>
<rect x="137.19" y="225.35" width="2.81" height="2.5" fill="url(#h0_87)"/>
<rect x="137.19" y="226.35" width="2.62" height="1" fill="url(#v0_87)"/>
</g>
<path d="M20.15 135.55H141.5V229.35H20.15ZM23.15 138.55V226.35H138.5V138.55Z" fill="#fff" fill-rule="evenodd"/>
<path d="M23.15 226.35H138.5V138.55" fill="none" stroke="#262626" stroke-opacity="0.45" stroke-width="0.5"/>
<text x="45.62" y="234.75" transform="rotate(0.1 45.62 234.75)" text-anchor="middle">200</text>
<text x="20.95" y="158.06" transform="rotate(0.1 20.95 158.06)" text-anchor="end">200</text>
<text x="68.15" y="234.75" transform="rotate(0.1 68.15 234.75)" text-anchor="middle">400</text>
<text x="20.95" y="175.2" transform="rotate(0.1 20.95 175.2)" text-anchor="end">400</text>
<text x="90.68" y="234.75" transform="rotate(0.1 90.68 234.75)" text-anchor="middle">600</text>
<text x="20.95" y="192.35" transform="rotate(0.1 20.95 192.35)" text-anchor="end">600</text>
<text x="113.21" y="234.75" transform="rotate(0.1 113.21 234.75)" text-anchor="middle">800</text>
<text x="20.95" y="209.5" transform="rotate(0.1 20.95 209.5)" text-anchor="end">800</text>
<text x="135.74" y="234.75" transform="rotate(0.1 135.74 234.75)" text-anchor="middle">1000</text>
<text x="20.95" y="226.65" transform="rotate(0.1 20.95 226.65)" text-anchor="end">1000</text>
<path d="M45.62 226.35v-1.2M45.62 138.55v1.2M23.15 155.66h1.2M138.5 155.66h-1.2M68.15 226.35v-1.2M68.15 138.55v1.2M23.15 172.8h1.2M138.5 172.8h-1.2M90.68 226.35v-1.2M90.68 138.55v1.2M23.15 189.95h1.2M138.5 189.95h-1.2M113.21 226.35v-1.2M113.21 138.55v1.2M23.15 207.1h1.2M138.5 207.1h-1.2M135.74 226.35v-1.2M135.74 138.55v1.2M23.15 224.25h1.2M138.5 224.25h-1.2" stroke="#262626" stroke-width="0.5" stroke-opacity="0.6" fill="none"/>
<text x="80.42" y="241.45" transform="rotate(0.1 80.42 241.45)" text-anchor="middle" font-size="6.4" font-family="Liberation Serif, serif" font-style="italic" fill="#484848" stroke="none">t<tspan font-size="4.6" dx="0.4" dy="1.5">j</tspan></text>
<text transform="translate(3.95 182.05) rotate(-89.9)" text-anchor="middle" font-size="6.4" font-family="Liberation Serif, serif" font-style="italic" fill="#484848" stroke="none">t<tspan font-size="4.6" dx="0.4" dy="1.5">i</tspan></text>
<text x="80.98" y="136.25" transform="rotate(0.1 80.98 136.25)" text-anchor="middle" font-size="6.25" font-weight="bold" fill="#000">Normal</text>
<path d="M198.87 16V103.6M175.65 86.08H291.75M222.09 16V103.6M175.65 68.56H291.75M245.31 16V103.6M175.65 51.04H291.75M268.53 16V103.6M175.65 33.52H291.75" stroke="#262626" stroke-opacity="0.15" stroke-width="0.35" fill="none"/>
<path d="M175.65 103.6L288.85 18.19" stroke="#0000ff" stroke-width="1.3" stroke-dasharray="4.7 4.43" stroke-dashoffset="0.3" fill="none"/>
<rect x="175.65" y="16" width="116.1" height="87.6" fill="none" stroke="#262626" stroke-opacity="0.36" stroke-width="0.9"/>
<path d="M175.65 103.6v-1.2M175.65 16v1.2M175.65 103.6h1.2M291.75 103.6h-1.2M198.87 103.6v-1.2M198.87 16v1.2M175.65 86.08h1.2M291.75 86.08h-1.2M222.09 103.6v-1.2M222.09 16v1.2M175.65 68.56h1.2M291.75 68.56h-1.2M245.31 103.6v-1.2M245.31 16v1.2M175.65 51.04h1.2M291.75 51.04h-1.2M268.53 103.6v-1.2M268.53 16v1.2M175.65 33.52h1.2M291.75 33.52h-1.2M291.75 103.6v-1.2M291.75 16v1.2M175.65 16h1.2M291.75 16h-1.2" stroke="#262626" stroke-width="0.5" stroke-opacity="0.75" fill="none"/>
<text x="175.65" y="112.3" transform="rotate(0.1 175.65 112.3)" text-anchor="middle">0</text>
<text x="173.45" y="105.9" transform="rotate(0.1 173.45 105.9)" text-anchor="end">0</text>
<text x="198.87" y="112.3" transform="rotate(0.1 198.87 112.3)" text-anchor="middle">0.2</text>
<text x="173.45" y="88.38" transform="rotate(0.1 173.45 88.38)" text-anchor="end">0.2</text>
<text x="222.09" y="112.3" transform="rotate(0.1 222.09 112.3)" text-anchor="middle">0.4</text>
<text x="173.45" y="70.86" transform="rotate(0.1 173.45 70.86)" text-anchor="end">0.4</text>
<text x="245.31" y="112.3" transform="rotate(0.1 245.31 112.3)" text-anchor="middle">0.6</text>
<text x="173.45" y="53.34" transform="rotate(0.1 173.45 53.34)" text-anchor="end">0.6</text>
<text x="268.53" y="112.3" transform="rotate(0.1 268.53 112.3)" text-anchor="middle">0.8</text>
<text x="173.45" y="35.82" transform="rotate(0.1 173.45 35.82)" text-anchor="end">0.8</text>
<text x="291.75" y="112.3" transform="rotate(0.1 291.75 112.3)" text-anchor="middle">1</text>
<text x="173.45" y="18.3" transform="rotate(0.1 173.45 18.3)" text-anchor="end">1</text>
<text x="233.7" y="121.1" transform="rotate(0.1 233.7 121.1)" text-anchor="middle" font-size="6.4">Time</text>
<text transform="translate(162.35 59.45) rotate(-89.9)" text-anchor="middle" font-size="6.28">Quadratic variations</text>
<text x="233.85" y="13.7" transform="rotate(0.1 233.85 13.7)" text-anchor="middle" font-size="6.25" font-weight="bold" fill="#000">Beta</text>
<g>
<defs><linearGradient id="h1_1" gradientUnits="userSpaceOnUse" x1="176.97" y1="0" x2="291.45" y2="0"><stop offset="0" stop-color="#3f29b0"/><stop offset="1" stop-color="#3e27ac"/></linearGradient><linearGradient id="v1_1" href="#h1_1" x1="0" y1="139.55" x2="0" y2="226.35"/><linearGradient id="h1_2" gradientUnits="userSpaceOnUse" x1="178.28" y1="0" x2="291.45" y2="0"><stop offset="0" stop-color="#402ab5"/><stop offset="0.854" stop-color="#3f28ae"/><stop offset="1" stop-color="#3f28ae"/></linearGradient><linearGradient id="v1_2" href="#h1_2" x1="0" y1="140.55" x2="0" y2="226.35"/><linearGradient id="h1_3" gradientUnits="userSpaceOnUse" x1="179.6" y1="0" x2="291.45" y2="0"><stop offset="0" stop-color="#412cba"/><stop offset="0.559" stop-color="#3f29b1"/><stop offset="1" stop-color="#3f29b0"/></linearGradient><linearGradient id="v1_3" href="#h1_3" x1="0" y1="141.54" x2="0" y2="226.35"/><linearGradient id="h1_4" gradientUnits="userSpaceOnUse" x1="180.91" y1="0" x2="291.45" y2="0"><stop offset="0" stop-color="#422ebe"/><stop offset="0.463" stop-color="#402ab4"/><stop offset="1" stop-color="#3f29b2"/></linearGradient><linearGradient id="v1_4" href="#h1_4" x1="0" y1="142.54" x2="0" y2="226.35"/><linearGradient id="h1_5" gradientUnits="userSpaceOnUse" x1="182.23" y1="0" x2="291.45" y2="0"><stop offset="0" stop-color="#4230c3"/><stop offset="0.365" stop-color="#402bb8"/><stop offset="1" stop-color="#402ab5"/></linearGradient><linearGradient id="v1_5" href="#h1_5" x1="0" y1="143.54" x2="0" y2="226.35"/><linearGradient id="h1_6" gradientUnits="userSpaceOnUse" x1="183.55" y1="0" x2="291.45" y2="0"><stop offset="0" stop-color="#4331c8"/><stop offset="0.369" stop-color="#412dbc"/><stop offset="1" stop-color="#412cba"/></linearGradient><linearGradient id="v1_6" href="#h1_6" x1="0" y1="144.54" x2="0" y2="226.35"/><linearGradient id="h1_7" gradientUnits="userSpaceOnUse" x1="184.86" y1="0" x2="291.45" y2="0"><stop offset="0" stop-color="#4433cd"/><stop offset="0.374" stop-color="#422fc1"/><stop offset="1" stop-color="#422ebe"/></linearGradient><linearGradient id="v1_7" href="#h1_7" x1="0" y1="145.53" x2="0" y2="226.35"/><linearGradient id="h1_8" gradientUnits="userSpaceOnUse" x1="186.18" y1="0" x2="291.45" y2="0"><stop offset="0" stop-color="#4435d1"/><stop offset="0.378" stop-color="#4331c6"/><stop offset="1" stop-color="#4230c3"/></linearGradient><linearGradient id="v1_8" href="#h1_8" x1="0" y1="146.53" x2="0" y2="226.35"/><linearGradient id="h1_9" gradientUnits="userSpaceOnUse" x1="187.49" y1="0" x2="291.45" y2="0"><stop offset="0" stop-color="#4537d5"/><stop offset="0.383" stop-color="#4332ca"/><stop offset="1" stop-color="#4331c7"/></linearGradient><linearGradient id="v1_9" href="#h1_9" x1="0" y1="147.53" x2="0" y2="226.35"/><linearGradient id="h1_10" gradientUnits="userSpaceOnUse" x1="188.81" y1="0" x2="291.45" y2="0"><stop offset="0" stop-color="#4639d9"/><stop offset="0.388" stop-color="#4434cf"/><stop offset="1" stop-color="#4433cc"/></linearGradient><linearGradient id="v1_10" href="#h1_10" x1="0" y1="148.53" x2="0" y2="226.35"/><linearGradient id="h1_11" gradientUnits="userSpaceOnUse" x1="190.12" y1="0" x2="291.45" y2="0"><stop offset="0" stop-color="#463cde"/><stop offset="0.393" stop-color="#4536d4"/><stop offset="1" stop-color="#4435d1"/></linearGradient><linearGradient id="v1_11" href="#h1_11" x1="0" y1="149.53" x2="0" y2="226.35"/><linearGradient id="h1_12" gradientUnits="userSpaceOnUse" x1="191.44" y1="0" x2="291.45" y2="0"><stop offset="0" stop-color="#4740e4"/><stop offset="0.398" stop-color="#463adb"/><stop offset="1" stop-color="#4539d9"/></linearGradient><linearGradient id="v1_12" href="#h1_12" x1="0" y1="150.52" x2="0" y2="226.35"/><linearGradient id="h1_13" gradientUnits="userSpaceOnUse" x1="192.76" y1="0" x2="291.45" y2="0"><stop offset="0" stop-color="#4744e8"/><stop offset="0.404" stop-color="#463ee1"/><stop offset="1" stop-color="#463ddf"/></linearGradient><linearGradient id="v1_13" href="#h1_13" x1="0" y1="151.52" x2="0" y2="226.35"/><linearGradient id="h1_14" gradientUnits="userSpaceOnUse" x1="194.07" y1="0" x2="291.45" y2="0"><stop offset="0" stop-color="#4849ed"/><stop offset="0.409" stop-color="#4742e6"/><stop offset="1" stop-color="#4741e5"/></linearGradient><linearGradient id="v1_14" href="#h1_14" x1="0" y1="152.52" x2="0" y2="226.35"/><linearGradient id="h1_15" gradientUnits="userSpaceOnUse" x1="195.39" y1="0" x2="291.45" y2="0"><stop offset="0" stop-color="#484df1"/><stop offset="0.415" stop-color="#4747eb"/><stop offset="1" stop-color="#4745e9"/></linearGradient><linearGradient id="v1_15" href="#h1_15" x1="0" y1="153.52" x2="0" y2="226.35"/><linearGradient id="h1_16" gradientUnits="userSpaceOnUse" x1="196.7" y1="0" x2="291.45" y2="0"><stop offset="0" stop-color="#4852f4"/><stop offset="0.421" stop-color="#484bef"/><stop offset="1" stop-color="#484aed"/></linearGradient><linearGradient id="v1_16" href="#h1_16" x1="0" y1="154.51" x2="0" y2="226.35"/><linearGradient id="h1_17" gradientUnits="userSpaceOnUse" x1="198.02" y1="0" x2="291.45" y2="0"><stop offset="0" stop-color="#4756f7"/><stop offset="0.427" stop-color="#484ff2"/><stop offset="1" stop-color="#484ef1"/></linearGradient><linearGradient id="v1_17" href="#h1_17" x1="0" y1="155.51" x2="0" y2="226.35"/><linearGradient id="h1_18" gradientUnits="userSpaceOnUse" x1="199.34" y1="0" x2="291.45" y2="0"><stop offset="0" stop-color="#475af9"/><stop offset="0.433" stop-color="#4854f5"/><stop offset="1" stop-color="#4852f4"/></linearGradient><linearGradient id="v1_18" href="#h1_18" x1="0" y1="156.51" x2="0" y2="226.35"/><linearGradient id="h1_19" gradientUnits="userSpaceOnUse" x1="200.65" y1="0" x2="291.45" y2="0"><stop offset="0" stop-color="#465ffb"/><stop offset="0.439" stop-color="#4758f8"/><stop offset="1" stop-color="#4757f7"/></linearGradient><linearGradient id="v1_19" href="#h1_19" x1="0" y1="157.51" x2="0" y2="226.35"/><linearGradient id="h1_20" gradientUnits="userSpaceOnUse" x1="201.97" y1="0" x2="291.45" y2="0"><stop offset="0" stop-color="#4563fd"/><stop offset="0.446" stop-color="#475cfa"/><stop offset="1" stop-color="#475bf9"/></linearGradient><linearGradient id="v1_20" href="#h1_20" x1="0" y1="158.5" x2="0" y2="226.35"/><linearGradient id="h1_21" gradientUnits="userSpaceOnUse" x1="203.28" y1="0" x2="291.45" y2="0"><stop offset="0" stop-color="#4368fe"/><stop offset="0.452" stop-color="#4661fc"/><stop offset="1" stop-color="#465ffb"/></linearGradient><linearGradient id="v1_21" href="#h1_21" x1="0" y1="159.5" x2="0" y2="226.35"/><linearGradient id="h1_22" gradientUnits="userSpaceOnUse" x1="204.6" y1="0" x2="291.45" y2="0"><stop offset="0" stop-color="#406dfe"/><stop offset="0.459" stop-color="#4465fd"/><stop offset="1" stop-color="#4564fd"/></linearGradient><linearGradient id="v1_22" href="#h1_22" x1="0" y1="160.5" x2="0" y2="226.35"/><linearGradient id="h1_23" gradientUnits="userSpaceOnUse" x1="205.92" y1="0" x2="291.45" y2="0"><stop offset="0" stop-color="#3b72ff"/><stop offset="0.466" stop-color="#416afe"/><stop offset="1" stop-color="#4269fe"/></linearGradient><linearGradient id="v1_23" href="#h1_23" x1="0" y1="161.5" x2="0" y2="226.35"/><linearGradient id="h1_24" gradientUnits="userSpaceOnUse" x1="207.23" y1="0" x2="291.45" y2="0"><stop offset="0" stop-color="#3678fd"/><stop offset="0.474" stop-color="#3d70ff"/><stop offset="1" stop-color="#3f6fff"/></linearGradient><linearGradient id="v1_24" href="#h1_24" x1="0" y1="162.5" x2="0" y2="226.35"/><linearGradient id="h1_25" gradientUnits="userSpaceOnUse" x1="208.55" y1="0" x2="291.45" y2="0"><stop offset="0" stop-color="#317efb"/><stop offset="0.481" stop-color="#3776fe"/><stop offset="1" stop-color="#3975fe"/></linearGradient><linearGradient id="v1_25" href="#h1_25" x1="0" y1="163.49" x2="0" y2="226.35"/><linearGradient id="h1_26" gradientUnits="userSpaceOnUse" x1="209.86" y1="0" x2="291.45" y2="0"><stop offset="0" stop-color="#2e83f9"/><stop offset="0.489" stop-color="#327cfc"/><stop offset="1" stop-color="#337bfd"/></linearGradient><linearGradient id="v1_26" href="#h1_26" x1="0" y1="164.49" x2="0" y2="226.35"/><linearGradient id="h1_27" gradientUnits="userSpaceOnUse" x1="211.18" y1="0" x2="291.45" y2="0"><stop offset="0" stop-color="#2d89f6"/><stop offset="0.497" stop-color="#2f82fa"/><stop offset="1" stop-color="#2f80fa"/></linearGradient><linearGradient id="v1_27" href="#h1_27" x1="0" y1="165.49" x2="0" y2="226.35"/><linearGradient id="h1_28" gradientUnits="userSpaceOnUse" x1="212.5" y1="0" x2="291.45" y2="0"><stop offset="0" stop-color="#2c8ef2"/><stop offset="0.506" stop-color="#2e87f7"/><stop offset="1" stop-color="#2e86f8"/></linearGradient><linearGradient id="v1_28" href="#h1_28" x1="0" y1="166.49" x2="0" y2="226.35"/><linearGradient id="h1_29" gradientUnits="userSpaceOnUse" x1="213.81" y1="0" x2="291.45" y2="0"><stop offset="0" stop-color="#2a93ee"/><stop offset="0.514" stop-color="#2d8cf3"/><stop offset="1" stop-color="#2d8bf4"/></linearGradient><linearGradient id="v1_29" href="#h1_29" x1="0" y1="167.48" x2="0" y2="226.35"/><linearGradient id="h1_30" gradientUnits="userSpaceOnUse" x1="215.13" y1="0" x2="291.45" y2="0"><stop offset="0" stop-color="#2797ea"/><stop offset="0.523" stop-color="#2b91ef"/><stop offset="1" stop-color="#2c90f0"/></linearGradient><linearGradient id="v1_30" href="#h1_30" x1="0" y1="168.48" x2="0" y2="226.35"/><linearGradient id="h1_31" gradientUnits="userSpaceOnUse" x1="216.44" y1="0" x2="291.45" y2="0"><stop offset="0" stop-color="#259ce7"/><stop offset="0.532" stop-color="#2895ec"/><stop offset="1" stop-color="#2994ed"/></linearGradient><linearGradient id="v1_31" href="#h1_31" x1="0" y1="169.48" x2="0" y2="226.35"/><linearGradient id="h1_32" gradientUnits="userSpaceOnUse" x1="217.76" y1="0" x2="291.45" y2="0"><stop offset="0" stop-color="#23a0e5"/><stop offset="0.542" stop-color="#269ae9"/><stop offset="1" stop-color="#2699ea"/></linearGradient><linearGradient id="v1_32" href="#h1_32" x1="0" y1="170.48" x2="0" y2="226.35"/><linearGradient id="h1_33" gradientUnits="userSpaceOnUse" x1="219.07" y1="0" x2="291.45" y2="0"><stop offset="0" stop-color="#20a4e3"/><stop offset="0.552" stop-color="#249ee6"/><stop offset="1" stop-color="#259de7"/></linearGradient><linearGradient id="v1_33" href="#h1_33" x1="0" y1="171.48" x2="0" y2="226.35"/><linearGradient id="h1_34" gradientUnits="userSpaceOnUse" x1="220.39" y1="0" x2="291.45" y2="0"><stop offset="0" stop-color="#1da8e0"/><stop offset="0.562" stop-color="#22a2e4"/><stop offset="1" stop-color="#23a1e4"/></linearGradient><linearGradient id="v1_34" href="#h1_34" x1="0" y1="172.47" x2="0" y2="226.35"/><linearGradient id="h1_35" gradientUnits="userSpaceOnUse" x1="221.71" y1="0" x2="291.45" y2="0"><stop offset="0" stop-color="#1aacdd"/><stop offset="0.573" stop-color="#1fa6e2"/><stop offset="1" stop-color="#20a5e2"/></linearGradient><linearGradient id="v1_35" href="#h1_35" x1="0" y1="173.47" x2="0" y2="226.35"/><linearGradient id="h1_36" gradientUnits="userSpaceOnUse" x1="223.02" y1="0" x2="291.45" y2="0"><stop offset="0" stop-color="#15afd9"/><stop offset="0.584" stop-color="#1caadf"/><stop offset="1" stop-color="#1ca9e0"/></linearGradient><linearGradient id="v1_36" href="#h1_36" x1="0" y1="174.47" x2="0" y2="226.35"/><linearGradient id="h1_37" gradientUnits="userSpaceOnUse" x1="224.34" y1="0" x2="291.45" y2="0"><stop offset="0" stop-color="#10b2d5"/><stop offset="0.596" stop-color="#19addc"/><stop offset="1" stop-color="#1aacdd"/></linearGradient><linearGradient id="v1_37" href="#h1_37" x1="0" y1="175.47" x2="0" y2="226.35"/><linearGradient id="h1_38" gradientUnits="userSpaceOnUse" x1="225.65" y1="0" x2="291.45" y2="0"><stop offset="0" stop-color="#09b4d1"/><stop offset="0.608" stop-color="#14b0d8"/><stop offset="1" stop-color="#16afd9"/></linearGradient><linearGradient id="v1_38" href="#h1_38" x1="0" y1="176.46" x2="0" y2="226.35"/><linearGradient id="h1_39" gradientUnits="userSpaceOnUse" x1="226.97" y1="0" x2="291.45" y2="0"><stop offset="0" stop-color="#04b6cc"/><stop offset="0.62" stop-color="#0eb2d4"/><stop offset="1" stop-color="#10b2d5"/></linearGradient><linearGradient id="v1_39" href="#h1_39" x1="0" y1="177.46" x2="0" y2="226.35"/><linearGradient id="h1_40" gradientUnits="userSpaceOnUse" x1="228.29" y1="0" x2="291.45" y2="0"><stop offset="0" stop-color="#01b9c8"/><stop offset="0.633" stop-color="#07b5d0"/><stop offset="1" stop-color="#09b4d1"/></linearGradient><linearGradient id="v1_40" href="#h1_40" x1="0" y1="178.46" x2="0" y2="226.35"/><linearGradient id="h1_41" gradientUnits="userSpaceOnUse" x1="229.6" y1="0" x2="291.45" y2="0"><stop offset="0" stop-color="#02bbc3"/><stop offset="0.647" stop-color="#02b7cb"/><stop offset="1" stop-color="#04b6cd"/></linearGradient><linearGradient id="v1_41" href="#h1_41" x1="0" y1="179.46" x2="0" y2="226.35"/><linearGradient id="h1_42" gradientUnits="userSpaceOnUse" x1="230.92" y1="0" x2="291.45" y2="0"><stop offset="0" stop-color="#09bcbe"/><stop offset="0.661" stop-color="#01b9c7"/><stop offset="1" stop-color="#01b9c8"/></linearGradient><linearGradient id="v1_42" href="#h1_42" x1="0" y1="180.45" x2="0" y2="226.35"/><linearGradient id="h1_43" gradientUnits="userSpaceOnUse" x1="232.23" y1="0" x2="291.45" y2="0"><stop offset="0" stop-color="#11beb9"/><stop offset="0.676" stop-color="#04bbc2"/><stop offset="1" stop-color="#02bbc3"/></linearGradient><linearGradient id="v1_43" href="#h1_43" x1="0" y1="181.45" x2="0" y2="226.35"/><linearGradient id="h1_44" gradientUnits="userSpaceOnUse" x1="233.55" y1="0" x2="291.45" y2="0"><stop offset="0" stop-color="#1cc0b4"/><stop offset="0.691" stop-color="#0bbdbc"/><stop offset="1" stop-color="#0abdbe"/></linearGradient><linearGradient id="v1_44" href="#h1_44" x1="0" y1="182.45" x2="0" y2="226.35"/><linearGradient id="h1_45" gradientUnits="userSpaceOnUse" x1="234.87" y1="0" x2="291.45" y2="0"><stop offset="0" stop-color="#25c2ae"/><stop offset="0.708" stop-color="#16bfb7"/><stop offset="1" stop-color="#14bfb8"/></linearGradient><linearGradient id="v1_45" href="#h1_45" x1="0" y1="183.45" x2="0" y2="226.35"/><linearGradient id="h1_46" gradientUnits="userSpaceOnUse" x1="236.18" y1="0" x2="291.45" y2="0"><stop offset="0" stop-color="#2bc3a8"/><stop offset="0.725" stop-color="#20c1b1"/><stop offset="1" stop-color="#1ec0b2"/></linearGradient><linearGradient id="v1_46" href="#h1_46" x1="0" y1="184.45" x2="0" y2="226.35"/><linearGradient id="h1_47" gradientUnits="userSpaceOnUse" x1="237.5" y1="0" x2="291.45" y2="0"><stop offset="0" stop-color="#30c5a1"/><stop offset="0.743" stop-color="#28c2ab"/><stop offset="1" stop-color="#27c2ac"/></linearGradient><linearGradient id="v1_47" href="#h1_47" x1="0" y1="185.44" x2="0" y2="226.35"/><linearGradient id="h1_48" gradientUnits="userSpaceOnUse" x1="238.81" y1="0" x2="291.45" y2="0"><stop offset="0" stop-color="#35c79b"/><stop offset="0.761" stop-color="#2ec4a5"/><stop offset="1" stop-color="#2dc4a6"/></linearGradient><linearGradient id="v1_48" href="#h1_48" x1="0" y1="186.44" x2="0" y2="226.35"/><linearGradient id="h1_49" gradientUnits="userSpaceOnUse" x1="240.13" y1="0" x2="291.45" y2="0"><stop offset="0" stop-color="#3ac993"/><stop offset="0.781" stop-color="#32c69e"/><stop offset="1" stop-color="#32c69f"/></linearGradient><linearGradient id="v1_49" href="#h1_49" x1="0" y1="187.44" x2="0" y2="226.35"/><linearGradient id="h1_50" gradientUnits="userSpaceOnUse" x1="241.45" y1="0" x2="291.45" y2="0"><stop offset="0" stop-color="#41ca8c"/><stop offset="0.802" stop-color="#37c897"/><stop offset="1" stop-color="#36c898"/></linearGradient><linearGradient id="v1_50" href="#h1_50" x1="0" y1="188.44" x2="0" y2="226.35"/><linearGradient id="h1_51" gradientUnits="userSpaceOnUse" x1="242.76" y1="0" x2="291.45" y2="0"><stop offset="0" stop-color="#4bcb84"/><stop offset="0.824" stop-color="#3dca90"/><stop offset="1" stop-color="#3dc991"/></linearGradient><linearGradient id="v1_51" href="#h1_51" x1="0" y1="189.43" x2="0" y2="226.35"/><linearGradient id="h1_52" gradientUnits="userSpaceOnUse" x1="244.08" y1="0" x2="291.45" y2="0"><stop offset="0" stop-color="#55cc7b"/><stop offset="0.847" stop-color="#46cb88"/><stop offset="1" stop-color="#45cb89"/></linearGradient><linearGradient id="v1_52" href="#h1_52" x1="0" y1="190.43" x2="0" y2="226.35"/><linearGradient id="h1_53" gradientUnits="userSpaceOnUse" x1="245.39" y1="0" x2="291.45" y2="0"><stop offset="0" stop-color="#5fcd73"/><stop offset="0.89" stop-color="#4ecc81"/><stop offset="1" stop-color="#4ecc81"/></linearGradient><linearGradient id="v1_53" href="#h1_53" x1="0" y1="191.43" x2="0" y2="226.35"/><linearGradient id="h1_54" gradientUnits="userSpaceOnUse" x1="246.71" y1="0" x2="291.45" y2="0"><stop offset="0" stop-color="#66cd6d"/><stop offset="0.926" stop-color="#56cc7b"/><stop offset="1" stop-color="#55cc7b"/></linearGradient><linearGradient id="v1_54" href="#h1_54" x1="0" y1="192.43" x2="0" y2="226.35"/><linearGradient id="h1_55" gradientUnits="userSpaceOnUse" x1="248.03" y1="0" x2="291.45" y2="0"><stop offset="0" stop-color="#6fcd66"/><stop offset="0.925" stop-color="#5ecc74"/><stop offset="1" stop-color="#5dcc75"/></linearGradient><linearGradient id="v1_55" href="#h1_55" x1="0" y1="193.43" x2="0" y2="226.35"/><linearGradient id="h1_56" gradientUnits="userSpaceOnUse" x1="249.34" y1="0" x2="291.45" y2="0"><stop offset="0" stop-color="#77cc60"/><stop offset="0.962" stop-color="#65cd6e"/><stop offset="1" stop-color="#65cd6e"/></linearGradient><linearGradient id="v1_56" href="#h1_56" x1="0" y1="194.42" x2="0" y2="226.35"/><linearGradient id="h1_57" gradientUnits="userSpaceOnUse" x1="250.66" y1="0" x2="291.45" y2="0"><stop offset="0" stop-color="#80cc59"/><stop offset="1" stop-color="#6dcd67"/></linearGradient><linearGradient id="v1_57" href="#h1_57" x1="0" y1="195.42" x2="0" y2="226.35"/><linearGradient id="h1_58" gradientUnits="userSpaceOnUse" x1="251.97" y1="0" x2="291.45" y2="0"><stop offset="0" stop-color="#89cb53"/><stop offset="1" stop-color="#76cc60"/></linearGradient><linearGradient id="v1_58" href="#h1_58" x1="0" y1="196.42" x2="0" y2="226.35"/><linearGradient id="h1_59" gradientUnits="userSpaceOnUse" x1="253.29" y1="0" x2="291.45" y2="0"><stop offset="0" stop-color="#91ca4c"/><stop offset="1" stop-color="#7fcc5a"/></linearGradient><linearGradient id="v1_59" href="#h1_59" x1="0" y1="197.42" x2="0" y2="226.35"/><linearGradient id="h1_60" gradientUnits="userSpaceOnUse" x1="254.6" y1="0" x2="291.45" y2="0"><stop offset="0" stop-color="#99c946"/><stop offset="1" stop-color="#87cb54"/></linearGradient><linearGradient id="v1_60" href="#h1_60" x1="0" y1="198.41" x2="0" y2="226.35"/><linearGradient id="h1_61" gradientUnits="userSpaceOnUse" x1="255.92" y1="0" x2="291.45" y2="0"><stop offset="0" stop-color="#9fc941"/><stop offset="1" stop-color="#8fcb4e"/></linearGradient><linearGradient id="v1_61" href="#h1_61" x1="0" y1="199.41" x2="0" y2="226.35"/><linearGradient id="h1_62" gradientUnits="userSpaceOnUse" x1="257.24" y1="0" x2="291.45" y2="0"><stop offset="0" stop-color="#a6c83d"/><stop offset="1" stop-color="#95ca49"/></linearGradient><linearGradient id="v1_62" href="#h1_62" x1="0" y1="200.41" x2="0" y2="226.35"/><linearGradient id="h1_63" gradientUnits="userSpaceOnUse" x1="258.55" y1="0" x2="291.45" y2="0"><stop offset="0" stop-color="#acc738"/><stop offset="1" stop-color="#9cc943"/></linearGradient><linearGradient id="v1_63" href="#h1_63" x1="0" y1="201.41" x2="0" y2="226.35"/><linearGradient id="h1_64" gradientUnits="userSpaceOnUse" x1="259.87" y1="0" x2="291.45" y2="0"><stop offset="0" stop-color="#b3c534"/><stop offset="1" stop-color="#a3c83e"/></linearGradient><linearGradient id="v1_64" href="#h1_64" x1="0" y1="202.4" x2="0" y2="226.35"/><linearGradient id="h1_65" gradientUnits="userSpaceOnUse" x1="261.18" y1="0" x2="291.45" y2="0"><stop offset="0" stop-color="#b9c431"/><stop offset="1" stop-color="#aac73a"/></linearGradient><linearGradient id="v1_65" href="#h1_65" x1="0" y1="203.4" x2="0" y2="226.35"/><linearGradient id="h1_66" gradientUnits="userSpaceOnUse" x1="262.5" y1="0" x2="291.45" y2="0"><stop offset="0" stop-color="#bfc32d"/><stop offset="1" stop-color="#b1c635"/></linearGradient><linearGradient id="v1_66" href="#h1_66" x1="0" y1="204.4" x2="0" y2="226.35"/><linearGradient id="h1_67" gradientUnits="userSpaceOnUse" x1="263.82" y1="0" x2="291.45" y2="0"><stop offset="0" stop-color="#c5c22a"/><stop offset="1" stop-color="#b7c531"/></linearGradient><linearGradient id="v1_67" href="#h1_67" x1="0" y1="205.4" x2="0" y2="226.35"/><linearGradient id="h1_68" gradientUnits="userSpaceOnUse" x1="265.13" y1="0" x2="291.45" y2="0"><stop offset="0" stop-color="#cbc129"/><stop offset="1" stop-color="#bec32e"/></linearGradient><linearGradient id="v1_68" href="#h1_68" x1="0" y1="206.4" x2="0" y2="226.35"/><linearGradient id="h1_69" gradientUnits="userSpaceOnUse" x1="266.45" y1="0" x2="291.45" y2="0"><stop offset="0" stop-color="#d1bf27"/><stop offset="1" stop-color="#c7c129"/></linearGradient><linearGradient id="v1_69" href="#h1_69" x1="0" y1="207.39" x2="0" y2="226.35"/><linearGradient id="h1_70" gradientUnits="userSpaceOnUse" x1="267.76" y1="0" x2="291.45" y2="0"><stop offset="0" stop-color="#d7be28"/><stop offset="0.931" stop-color="#d0c028"/><stop offset="1" stop-color="#d1bf27"/></linearGradient><linearGradient id="v1_70" href="#h1_70" x1="0" y1="208.39" x2="0" y2="226.35"/><linearGradient id="h1_71" gradientUnits="userSpaceOnUse" x1="269.08" y1="0" x2="291.45" y2="0"><stop offset="0" stop-color="#ddbd29"/><stop offset="0.885" stop-color="#d6be28"/><stop offset="1" stop-color="#dabd28"/></linearGradient><linearGradient id="v1_71" href="#h1_71" x1="0" y1="209.39" x2="0" y2="226.35"/><linearGradient id="h1_72" gradientUnits="userSpaceOnUse" x1="270.4" y1="0" x2="291.45" y2="0"><stop offset="0" stop-color="#e3bc2c"/><stop offset="0.839" stop-color="#ddbd29"/><stop offset="1" stop-color="#e2bc2b"/></linearGradient><linearGradient id="v1_72" href="#h1_72" x1="0" y1="210.39" x2="0" y2="226.35"/><linearGradient id="h1_73" gradientUnits="userSpaceOnUse" x1="271.71" y1="0" x2="291.45" y2="0"><stop offset="0" stop-color="#e8bb2f"/><stop offset="0.828" stop-color="#e3bc2c"/><stop offset="1" stop-color="#eaba31"/></linearGradient><linearGradient id="v1_73" href="#h1_73" x1="0" y1="211.38" x2="0" y2="226.35"/><linearGradient id="h1_74" gradientUnits="userSpaceOnUse" x1="273.03" y1="0" x2="291.45" y2="0"><stop offset="0" stop-color="#edba34"/><stop offset="0.815" stop-color="#e9bb30"/><stop offset="1" stop-color="#f2ba37"/></linearGradient><linearGradient id="v1_74" href="#h1_74" x1="0" y1="212.38" x2="0" y2="226.35"/><linearGradient id="h1_75" gradientUnits="userSpaceOnUse" x1="274.34" y1="0" x2="291.45" y2="0"><stop offset="0" stop-color="#f2ba38"/><stop offset="0.698" stop-color="#edba33"/><stop offset="1" stop-color="#f8ba3d"/></linearGradient><linearGradient id="v1_75" href="#h1_75" x1="0" y1="213.38" x2="0" y2="226.35"/><linearGradient id="h1_76" gradientUnits="userSpaceOnUse" x1="275.66" y1="0" x2="291.45" y2="0"><stop offset="0" stop-color="#f7ba3c"/><stop offset="0.671" stop-color="#f2ba38"/><stop offset="1" stop-color="#fdbd3d"/></linearGradient><linearGradient id="v1_76" href="#h1_76" x1="0" y1="214.38" x2="0" y2="226.35"/><linearGradient id="h1_77" gradientUnits="userSpaceOnUse" x1="276.98" y1="0" x2="291.45" y2="0"><stop offset="0" stop-color="#fbbc3d"/><stop offset="0.696" stop-color="#f9bb3d"/><stop offset="1" stop-color="#fec239"/></linearGradient><linearGradient id="v1_77" href="#h1_77" x1="0" y1="215.38" x2="0" y2="226.35"/><linearGradient id="h1_78" gradientUnits="userSpaceOnUse" x1="278.29" y1="0" x2="291.45" y2="0"><stop offset="0" stop-color="#febf3b"/><stop offset="0.602" stop-color="#febe3c"/><stop offset="0.873" stop-color="#fec438"/><stop offset="1" stop-color="#fec934"/></linearGradient><linearGradient id="v1_78" href="#h1_78" x1="0" y1="216.37" x2="0" y2="226.35"/><linearGradient id="h1_79" gradientUnits="userSpaceOnUse" x1="279.61" y1="0" x2="291.45" y2="0"><stop offset="0" stop-color="#fec437"/><stop offset="0.607" stop-color="#fec338"/><stop offset="1" stop-color="#fcd030"/></linearGradient><linearGradient id="v1_79" href="#h1_79" x1="0" y1="217.37" x2="0" y2="226.35"/><linearGradient id="h1_80" gradientUnits="userSpaceOnUse" x1="280.92" y1="0" x2="291.45" y2="0"><stop offset="0" stop-color="#fec934"/><stop offset="0.496" stop-color="#fec835"/><stop offset="0.84" stop-color="#fcd030"/><stop offset="1" stop-color="#f9d62d"/></linearGradient><linearGradient id="v1_80" href="#h1_80" x1="0" y1="218.37" x2="0" y2="226.35"/><linearGradient id="h1_81" gradientUnits="userSpaceOnUse" x1="282.24" y1="0" x2="291.45" y2="0"><stop offset="0" stop-color="#fdcd31"/><stop offset="0.529" stop-color="#fdce31"/><stop offset="1" stop-color="#f7dd2a"/></linearGradient><linearGradient id="v1_81" href="#h1_81" x1="0" y1="219.37" x2="0" y2="226.35"/><linearGradient id="h1_82" gradientUnits="userSpaceOnUse" x1="283.55" y1="0" x2="291.45" y2="0"><stop offset="0" stop-color="#fbd22f"/><stop offset="0.391" stop-color="#fbd32f"/><stop offset="0.938" stop-color="#f6e128"/><stop offset="1" stop-color="#f5e327"/></linearGradient><linearGradient id="v1_82" href="#h1_82" x1="0" y1="220.36" x2="0" y2="226.35"/><linearGradient id="h1_83" gradientUnits="userSpaceOnUse" x1="284.87" y1="0" x2="291.45" y2="0"><stop offset="0" stop-color="#f9d72d"/><stop offset="0.477" stop-color="#f7db2b"/><stop offset="1" stop-color="#f5e825"/></linearGradient><linearGradient id="v1_83" href="#h1_83" x1="0" y1="221.36" x2="0" y2="226.35"/><linearGradient id="h1_84" gradientUnits="userSpaceOnUse" x1="286.19" y1="0" x2="291.45" y2="0"><stop offset="0" stop-color="#f7dc2a"/><stop offset="0.656" stop-color="#f5e626"/><stop offset="1" stop-color="#f5ee21"/></linearGradient><linearGradient id="v1_84" href="#h1_84" x1="0" y1="222.36" x2="0" y2="226.35"/><linearGradient id="h1_85" gradientUnits="userSpaceOnUse" x1="287.5" y1="0" x2="291.45" y2="0"><stop offset="0" stop-color="#f5e526"/><stop offset="1" stop-color="#f7f41c"/></linearGradient><linearGradient id="v1_85" href="#h1_85" x1="0" y1="223.36" x2="0" y2="226.35"/><linearGradient id="h1_86" gradientUnits="userSpaceOnUse" x1="288.82" y1="0" x2="291.45" y2="0"><stop offset="0" stop-color="#f5ee21"/><stop offset="1" stop-color="#f7f51b"/></linearGradient><linearGradient id="v1_86" href="#h1_86" x1="0" y1="224.35" x2="0" y2="226.35"/></defs>
<rect x="174.15" y="137.05" width="118.8" height="90.8" fill="#3e27ab"/>
<rect x="176.97" y="139.55" width="115.98" height="88.3" fill="url(#h1_1)"/>
<rect x="176.97" y="140.55" width="2.63" height="86.8" fill="url(#v1_1)"/>
<rect x="178.28" y="140.55" width="114.67" height="87.3" fill="url(#h1_2)"/>
<rect x="178.28" y="141.54" width="2.63" height="85.81" fill="url(#v1_2)"/>
<rect x="179.6" y="141.54" width="113.35" height="86.31" fill="url(#h1_3)"/>
<rect x="179.6" y="142.54" width="2.63" height="84.81" fill="url(#v1_3)"/>
<rect x="180.91" y="142.54" width="112.04" height="85.31" fill="url(#h1_4)"/>
<rect x="180.91" y="143.54" width="2.63" height="83.81" fill="url(#v1_4)"/>
<rect x="182.23" y="143.54" width="110.72" height="84.31" fill="url(#h1_5)"/>
<rect x="182.23" y="144.54" width="2.63" height="82.81" fill="url(#v1_5)"/>
<rect x="183.55" y="144.54" width="109.4" height="83.31" fill="url(#h1_6)"/>
<rect x="183.55" y="145.53" width="2.63" height="81.82" fill="url(#v1_6)"/>
<rect x="184.86" y="145.53" width="108.09" height="82.32" fill="url(#h1_7)"/>
<rect x="184.86" y="146.53" width="2.63" height="80.82" fill="url(#v1_7)"/>
<rect x="186.18" y="146.53" width="106.77" height="81.32" fill="url(#h1_8)"/>
<rect x="186.18" y="147.53" width="2.63" height="79.82" fill="url(#v1_8)"/>
<rect x="187.49" y="147.53" width="105.46" height="80.32" fill="url(#h1_9)"/>
<rect x="187.49" y="148.53" width="2.63" height="78.82" fill="url(#v1_9)"/>
<rect x="188.81" y="148.53" width="104.14" height="79.32" fill="url(#h1_10)"/>
<rect x="188.81" y="149.53" width="2.63" height="77.82" fill="url(#v1_10)"/>
<rect x="190.12" y="149.53" width="102.82" height="78.32" fill="url(#h1_11)"/>
<rect x="190.12" y="150.52" width="2.63" height="76.83" fill="url(#v1_11)"/>
<rect x="191.44" y="150.52" width="101.51" height="77.33" fill="url(#h1_12)"/>
<rect x="191.44" y="151.52" width="2.63" height="75.83" fill="url(#v1_12)"/>
<rect x="192.76" y="151.52" width="100.19" height="76.33" fill="url(#h1_13)"/>
<rect x="192.76" y="152.52" width="2.63" height="74.83" fill="url(#v1_13)"/>
<rect x="194.07" y="152.52" width="98.88" height="75.33" fill="url(#h1_14)"/>
<rect x="194.07" y="153.52" width="2.63" height="73.83" fill="url(#v1_14)"/>
<rect x="195.39" y="153.52" width="97.56" height="74.33" fill="url(#h1_15)"/>
<rect x="195.39" y="154.51" width="2.63" height="72.84" fill="url(#v1_15)"/>
<rect x="196.7" y="154.51" width="96.25" height="73.34" fill="url(#h1_16)"/>
<rect x="196.7" y="155.51" width="2.63" height="71.84" fill="url(#v1_16)"/>
<rect x="198.02" y="155.51" width="94.93" height="72.34" fill="url(#h1_17)"/>
<rect x="198.02" y="156.51" width="2.63" height="70.84" fill="url(#v1_17)"/>
<rect x="199.34" y="156.51" width="93.61" height="71.34" fill="url(#h1_18)"/>
<rect x="199.34" y="157.51" width="2.63" height="69.84" fill="url(#v1_18)"/>
<rect x="200.65" y="157.51" width="92.3" height="70.34" fill="url(#h1_19)"/>
<rect x="200.65" y="158.5" width="2.63" height="68.85" fill="url(#v1_19)"/>
<rect x="201.97" y="158.5" width="90.98" height="69.35" fill="url(#h1_20)"/>
<rect x="201.97" y="159.5" width="2.63" height="67.85" fill="url(#v1_20)"/>
<rect x="203.28" y="159.5" width="89.67" height="68.35" fill="url(#h1_21)"/>
<rect x="203.28" y="160.5" width="2.63" height="66.85" fill="url(#v1_21)"/>
<rect x="204.6" y="160.5" width="88.35" height="67.35" fill="url(#h1_22)"/>
<rect x="204.6" y="161.5" width="2.63" height="65.85" fill="url(#v1_22)"/>
<rect x="205.92" y="161.5" width="87.03" height="66.35" fill="url(#h1_23)"/>
<rect x="205.92" y="162.5" width="2.63" height="64.85" fill="url(#v1_23)"/>
<rect x="207.23" y="162.5" width="85.72" height="65.35" fill="url(#h1_24)"/>
<rect x="207.23" y="163.49" width="2.63" height="63.86" fill="url(#v1_24)"/>
<rect x="208.55" y="163.49" width="84.4" height="64.36" fill="url(#h1_25)"/>
<rect x="208.55" y="164.49" width="2.63" height="62.86" fill="url(#v1_25)"/>
<rect x="209.86" y="164.49" width="83.09" height="63.36" fill="url(#h1_26)"/>
<rect x="209.86" y="165.49" width="2.63" height="61.86" fill="url(#v1_26)"/>
<rect x="211.18" y="165.49" width="81.77" height="62.36" fill="url(#h1_27)"/>
<rect x="211.18" y="166.49" width="2.63" height="60.86" fill="url(#v1_27)"/>
<rect x="212.5" y="166.49" width="80.45" height="61.36" fill="url(#h1_28)"/>
<rect x="212.5" y="167.48" width="2.63" height="59.87" fill="url(#v1_28)"/>
<rect x="213.81" y="167.48" width="79.14" height="60.37" fill="url(#h1_29)"/>
<rect x="213.81" y="168.48" width="2.63" height="58.87" fill="url(#v1_29)"/>
<rect x="215.13" y="168.48" width="77.82" height="59.37" fill="url(#h1_30)"/>
<rect x="215.13" y="169.48" width="2.63" height="57.87" fill="url(#v1_30)"/>
<rect x="216.44" y="169.48" width="76.51" height="58.37" fill="url(#h1_31)"/>
<rect x="216.44" y="170.48" width="2.63" height="56.87" fill="url(#v1_31)"/>
<rect x="217.76" y="170.48" width="75.19" height="57.37" fill="url(#h1_32)"/>
<rect x="217.76" y="171.48" width="2.63" height="55.87" fill="url(#v1_32)"/>
<rect x="219.07" y="171.48" width="73.88" height="56.37" fill="url(#h1_33)"/>
<rect x="219.07" y="172.47" width="2.63" height="54.88" fill="url(#v1_33)"/>
<rect x="220.39" y="172.47" width="72.56" height="55.38" fill="url(#h1_34)"/>
<rect x="220.39" y="173.47" width="2.63" height="53.88" fill="url(#v1_34)"/>
<rect x="221.71" y="173.47" width="71.24" height="54.38" fill="url(#h1_35)"/>
<rect x="221.71" y="174.47" width="2.63" height="52.88" fill="url(#v1_35)"/>
<rect x="223.02" y="174.47" width="69.93" height="53.38" fill="url(#h1_36)"/>
<rect x="223.02" y="175.47" width="2.63" height="51.88" fill="url(#v1_36)"/>
<rect x="224.34" y="175.47" width="68.61" height="52.38" fill="url(#h1_37)"/>
<rect x="224.34" y="176.46" width="2.63" height="50.89" fill="url(#v1_37)"/>
<rect x="225.65" y="176.46" width="67.3" height="51.39" fill="url(#h1_38)"/>
<rect x="225.65" y="177.46" width="2.63" height="49.89" fill="url(#v1_38)"/>
<rect x="226.97" y="177.46" width="65.98" height="50.39" fill="url(#h1_39)"/>
<rect x="226.97" y="178.46" width="2.63" height="48.89" fill="url(#v1_39)"/>
<rect x="228.29" y="178.46" width="64.66" height="49.39" fill="url(#h1_40)"/>
<rect x="228.29" y="179.46" width="2.63" height="47.89" fill="url(#v1_40)"/>
<rect x="229.6" y="179.46" width="63.35" height="48.39" fill="url(#h1_41)"/>
<rect x="229.6" y="180.45" width="2.63" height="46.9" fill="url(#v1_41)"/>
<rect x="230.92" y="180.45" width="62.03" height="47.4" fill="url(#h1_42)"/>
<rect x="230.92" y="181.45" width="2.63" height="45.9" fill="url(#v1_42)"/>
<rect x="232.23" y="181.45" width="60.72" height="46.4" fill="url(#h1_43)"/>
<rect x="232.23" y="182.45" width="2.63" height="44.9" fill="url(#v1_43)"/>
<rect x="233.55" y="182.45" width="59.4" height="45.4" fill="url(#h1_44)"/>
<rect x="233.55" y="183.45" width="2.63" height="43.9" fill="url(#v1_44)"/>
<rect x="234.87" y="183.45" width="58.08" height="44.4" fill="url(#h1_45)"/>
<rect x="234.87" y="184.45" width="2.63" height="42.9" fill="url(#v1_45)"/>
<rect x="236.18" y="184.45" width="56.77" height="43.4" fill="url(#h1_46)"/>
<rect x="236.18" y="185.44" width="2.63" height="41.91" fill="url(#v1_46)"/>
<rect x="237.5" y="185.44" width="55.45" height="42.41" fill="url(#h1_47)"/>
<rect x="237.5" y="186.44" width="2.63" height="40.91" fill="url(#v1_47)"/>
<rect x="238.81" y="186.44" width="54.14" height="41.41" fill="url(#h1_48)"/>
<rect x="238.81" y="187.44" width="2.63" height="39.91" fill="url(#v1_48)"/>
<rect x="240.13" y="187.44" width="52.82" height="40.41" fill="url(#h1_49)"/>
<rect x="240.13" y="188.44" width="2.63" height="38.91" fill="url(#v1_49)"/>
<rect x="241.45" y="188.44" width="51.5" height="39.41" fill="url(#h1_50)"/>
<rect x="241.45" y="189.43" width="2.63" height="37.92" fill="url(#v1_50)"/>
<rect x="242.76" y="189.43" width="50.19" height="38.42" fill="url(#h1_51)"/>
<rect x="242.76" y="190.43" width="2.63" height="36.92" fill="url(#v1_51)"/>
<rect x="244.08" y="190.43" width="48.87" height="37.42" fill="url(#h1_52)"/>
<rect x="244.08" y="191.43" width="2.63" height="35.92" fill="url(#v1_52)"/>
<rect x="245.39" y="191.43" width="47.56" height="36.42" fill="url(#h1_53)"/>
<rect x="245.39" y="192.43" width="2.63" height="34.92" fill="url(#v1_53)"/>
<rect x="246.71" y="192.43" width="46.24" height="35.42" fill="url(#h1_54)"/>
<rect x="246.71" y="193.43" width="2.63" height="33.92" fill="url(#v1_54)"/>
<rect x="248.03" y="193.43" width="44.92" height="34.42" fill="url(#h1_55)"/>
<rect x="248.03" y="194.42" width="2.63" height="32.93" fill="url(#v1_55)"/>
<rect x="249.34" y="194.42" width="43.61" height="33.43" fill="url(#h1_56)"/>
<rect x="249.34" y="195.42" width="2.63" height="31.93" fill="url(#v1_56)"/>
<rect x="250.66" y="195.42" width="42.29" height="32.43" fill="url(#h1_57)"/>
<rect x="250.66" y="196.42" width="2.63" height="30.93" fill="url(#v1_57)"/>
<rect x="251.97" y="196.42" width="40.98" height="31.43" fill="url(#h1_58)"/>
<rect x="251.97" y="197.42" width="2.63" height="29.93" fill="url(#v1_58)"/>
<rect x="253.29" y="197.42" width="39.66" height="30.43" fill="url(#h1_59)"/>
<rect x="253.29" y="198.41" width="2.63" height="28.94" fill="url(#v1_59)"/>
<rect x="254.6" y="198.41" width="38.35" height="29.44" fill="url(#h1_60)"/>
<rect x="254.6" y="199.41" width="2.63" height="27.94" fill="url(#v1_60)"/>
<rect x="255.92" y="199.41" width="37.03" height="28.44" fill="url(#h1_61)"/>
<rect x="255.92" y="200.41" width="2.63" height="26.94" fill="url(#v1_61)"/>
<rect x="257.24" y="200.41" width="35.71" height="27.44" fill="url(#h1_62)"/>
<rect x="257.24" y="201.41" width="2.63" height="25.94" fill="url(#v1_62)"/>
<rect x="258.55" y="201.41" width="34.4" height="26.44" fill="url(#h1_63)"/>
<rect x="258.55" y="202.4" width="2.63" height="24.95" fill="url(#v1_63)"/>
<rect x="259.87" y="202.4" width="33.08" height="25.45" fill="url(#h1_64)"/>
<rect x="259.87" y="203.4" width="2.63" height="23.95" fill="url(#v1_64)"/>
<rect x="261.18" y="203.4" width="31.77" height="24.45" fill="url(#h1_65)"/>
<rect x="261.18" y="204.4" width="2.63" height="22.95" fill="url(#v1_65)"/>
<rect x="262.5" y="204.4" width="30.45" height="23.45" fill="url(#h1_66)"/>
<rect x="262.5" y="205.4" width="2.63" height="21.95" fill="url(#v1_66)"/>
<rect x="263.82" y="205.4" width="29.13" height="22.45" fill="url(#h1_67)"/>
<rect x="263.82" y="206.4" width="2.63" height="20.95" fill="url(#v1_67)"/>
<rect x="265.13" y="206.4" width="27.82" height="21.45" fill="url(#h1_68)"/>
<rect x="265.13" y="207.39" width="2.63" height="19.96" fill="url(#v1_68)"/>
<rect x="266.45" y="207.39" width="26.5" height="20.46" fill="url(#h1_69)"/>
<rect x="266.45" y="208.39" width="2.63" height="18.96" fill="url(#v1_69)"/>
<rect x="267.76" y="208.39" width="25.19" height="19.46" fill="url(#h1_70)"/>
<rect x="267.76" y="209.39" width="2.63" height="17.96" fill="url(#v1_70)"/>
<rect x="269.08" y="209.39" width="23.87" height="18.46" fill="url(#h1_71)"/>
<rect x="269.08" y="210.39" width="2.63" height="16.96" fill="url(#v1_71)"/>
<rect x="270.4" y="210.39" width="22.55" height="17.46" fill="url(#h1_72)"/>
<rect x="270.4" y="211.38" width="2.63" height="15.97" fill="url(#v1_72)"/>
<rect x="271.71" y="211.38" width="21.24" height="16.47" fill="url(#h1_73)"/>
<rect x="271.71" y="212.38" width="2.63" height="14.97" fill="url(#v1_73)"/>
<rect x="273.03" y="212.38" width="19.92" height="15.47" fill="url(#h1_74)"/>
<rect x="273.03" y="213.38" width="2.63" height="13.97" fill="url(#v1_74)"/>
<rect x="274.34" y="213.38" width="18.61" height="14.47" fill="url(#h1_75)"/>
<rect x="274.34" y="214.38" width="2.63" height="12.97" fill="url(#v1_75)"/>
<rect x="275.66" y="214.38" width="17.29" height="13.47" fill="url(#h1_76)"/>
<rect x="275.66" y="215.38" width="2.63" height="11.97" fill="url(#v1_76)"/>
<rect x="276.98" y="215.38" width="15.97" height="12.47" fill="url(#h1_77)"/>
<rect x="276.98" y="216.37" width="2.63" height="10.98" fill="url(#v1_77)"/>
<rect x="278.29" y="216.37" width="14.66" height="11.48" fill="url(#h1_78)"/>
<rect x="278.29" y="217.37" width="2.63" height="9.98" fill="url(#v1_78)"/>
<rect x="279.61" y="217.37" width="13.34" height="10.48" fill="url(#h1_79)"/>
<rect x="279.61" y="218.37" width="2.63" height="8.98" fill="url(#v1_79)"/>
<rect x="280.92" y="218.37" width="12.03" height="9.48" fill="url(#h1_80)"/>
<rect x="280.92" y="219.37" width="2.63" height="7.98" fill="url(#v1_80)"/>
<rect x="282.24" y="219.37" width="10.71" height="8.48" fill="url(#h1_81)"/>
<rect x="282.24" y="220.36" width="2.63" height="6.99" fill="url(#v1_81)"/>
<rect x="283.55" y="220.36" width="9.4" height="7.49" fill="url(#h1_82)"/>
<rect x="283.55" y="221.36" width="2.63" height="5.99" fill="url(#v1_82)"/>
<rect x="284.87" y="221.36" width="8.08" height="6.49" fill="url(#h1_83)"/>
<rect x="284.87" y="222.36" width="2.63" height="4.99" fill="url(#v1_83)"/>
<rect x="286.19" y="222.36" width="6.76" height="5.49" fill="url(#h1_84)"/>
<rect x="286.19" y="223.36" width="2.63" height="3.99" fill="url(#v1_84)"/>
<rect x="287.5" y="223.36" width="5.45" height="4.49" fill="url(#h1_85)"/>
<rect x="287.5" y="224.35" width="2.63" height="3" fill="url(#v1_85)"/>
<rect x="288.82" y="224.35" width="4.13" height="3.5" fill="url(#h1_86)"/>
<rect x="288.82" y="225.35" width="2.63" height="2" fill="url(#v1_86)"/>
<rect x="290.13" y="225.35" width="2.82" height="2.5" fill="#f6f11f"/>
</g>
<path d="M172.65 135.55H294.45V229.35H172.65ZM175.65 138.55V226.35H291.45V138.55Z" fill="#fff" fill-rule="evenodd"/>
<path d="M175.65 226.35H291.45V138.55" fill="none" stroke="#262626" stroke-opacity="0.45" stroke-width="0.5"/>
<text x="198.21" y="234.75" transform="rotate(0.1 198.21 234.75)" text-anchor="middle">200</text>
<text x="173.45" y="158.06" transform="rotate(0.1 173.45 158.06)" text-anchor="end">200</text>
<text x="220.83" y="234.75" transform="rotate(0.1 220.83 234.75)" text-anchor="middle">400</text>
<text x="173.45" y="175.2" transform="rotate(0.1 173.45 175.2)" text-anchor="end">400</text>
<text x="243.45" y="234.75" transform="rotate(0.1 243.45 234.75)" text-anchor="middle">600</text>
<text x="173.45" y="192.35" transform="rotate(0.1 173.45 192.35)" text-anchor="end">600</text>
<text x="266.06" y="234.75" transform="rotate(0.1 266.06 234.75)" text-anchor="middle">800</text>
<text x="173.45" y="209.5" transform="rotate(0.1 173.45 209.5)" text-anchor="end">800</text>
<text x="288.68" y="234.75" transform="rotate(0.1 288.68 234.75)" text-anchor="middle">1000</text>
<text x="173.45" y="226.65" transform="rotate(0.1 173.45 226.65)" text-anchor="end">1000</text>
<path d="M198.21 226.35v-1.2M198.21 138.55v1.2M175.65 155.66h1.2M291.45 155.66h-1.2M220.83 226.35v-1.2M220.83 138.55v1.2M175.65 172.8h1.2M291.45 172.8h-1.2M243.45 226.35v-1.2M243.45 138.55v1.2M175.65 189.95h1.2M291.45 189.95h-1.2M266.06 226.35v-1.2M266.06 138.55v1.2M175.65 207.1h1.2M291.45 207.1h-1.2M288.68 226.35v-1.2M288.68 138.55v1.2M175.65 224.25h1.2M291.45 224.25h-1.2" stroke="#262626" stroke-width="0.5" stroke-opacity="0.6" fill="none"/>
<text x="233.15" y="241.45" transform="rotate(0.1 233.15 241.45)" text-anchor="middle" font-size="6.4" font-family="Liberation Serif, serif" font-style="italic" fill="#484848" stroke="none">t<tspan font-size="4.6" dx="0.4" dy="1.5">j</tspan></text>
<text transform="translate(156.45 182.05) rotate(-89.9)" text-anchor="middle" font-size="6.4" font-family="Liberation Serif, serif" font-style="italic" fill="#484848" stroke="none">t<tspan font-size="4.6" dx="0.4" dy="1.5">i</tspan></text>
<text x="233.7" y="136.25" transform="rotate(0.1 233.7 136.25)" text-anchor="middle" font-size="6.25" font-weight="bold" fill="#000">Beta</text>
<path d="M351.57 16V103.6M328.3 86.08H444.65M374.84 16V103.6M328.3 68.56H444.65M398.11 16V103.6M328.3 51.04H444.65M421.38 16V103.6M328.3 33.52H444.65" stroke="#262626" stroke-opacity="0.15" stroke-width="0.35" fill="none"/>
<path d="M328.3 103.6L441.74 18.19" stroke="#0000ff" stroke-width="1.3" stroke-dasharray="4.7 4.43" stroke-dashoffset="0.3" fill="none"/>
<rect x="328.3" y="16" width="116.35" height="87.6" fill="none" stroke="#262626" stroke-opacity="0.36" stroke-width="0.9"/>
<path d="M328.3 103.6v-1.2M328.3 16v1.2M328.3 103.6h1.2M444.65 103.6h-1.2M351.57 103.6v-1.2M351.57 16v1.2M328.3 86.08h1.2M444.65 86.08h-1.2M374.84 103.6v-1.2M374.84 16v1.2M328.3 68.56h1.2M444.65 68.56h-1.2M398.11 103.6v-1.2M398.11 16v1.2M328.3 51.04h1.2M444.65 51.04h-1.2M421.38 103.6v-1.2M421.38 16v1.2M328.3 33.52h1.2M444.65 33.52h-1.2M444.65 103.6v-1.2M444.65 16v1.2M328.3 16h1.2M444.65 16h-1.2" stroke="#262626" stroke-width="0.5" stroke-opacity="0.75" fill="none"/>
<text x="328.3" y="112.3" transform="rotate(0.1 328.3 112.3)" text-anchor="middle">0</text>
<text x="326.1" y="105.9" transform="rotate(0.1 326.1 105.9)" text-anchor="end">0</text>
<text x="351.57" y="112.3" transform="rotate(0.1 351.57 112.3)" text-anchor="middle">0.2</text>
<text x="326.1" y="88.38" transform="rotate(0.1 326.1 88.38)" text-anchor="end">0.2</text>
<text x="374.84" y="112.3" transform="rotate(0.1 374.84 112.3)" text-anchor="middle">0.4</text>
<text x="326.1" y="70.86" transform="rotate(0.1 326.1 70.86)" text-anchor="end">0.4</text>
<text x="398.11" y="112.3" transform="rotate(0.1 398.11 112.3)" text-anchor="middle">0.6</text>
<text x="326.1" y="53.34" transform="rotate(0.1 326.1 53.34)" text-anchor="end">0.6</text>
<text x="421.38" y="112.3" transform="rotate(0.1 421.38 112.3)" text-anchor="middle">0.8</text>
<text x="326.1" y="35.82" transform="rotate(0.1 326.1 35.82)" text-anchor="end">0.8</text>
<text x="444.65" y="112.3" transform="rotate(0.1 444.65 112.3)" text-anchor="middle">1</text>
<text x="326.1" y="18.3" transform="rotate(0.1 326.1 18.3)" text-anchor="end">1</text>
<text x="386.48" y="121.1" transform="rotate(0.1 386.48 121.1)" text-anchor="middle" font-size="6.4">Time</text>
<text transform="translate(315 59.45) rotate(-89.9)" text-anchor="middle" font-size="6.28">Quadratic variations</text>
<text x="386.62" y="13.7" transform="rotate(0.1 386.62 13.7)" text-anchor="middle" font-size="6.25" font-weight="bold" fill="#000">Uniform</text>
<g>
<defs><linearGradient id="h2_1" gradientUnits="userSpaceOnUse" x1="329.62" y1="0" x2="444.35" y2="0"><stop offset="0" stop-color="#3f29b0"/><stop offset="1" stop-color="#3e27ac"/></linearGradient><linearGradient id="v2_1" href="#h2_1" x1="0" y1="139.55" x2="0" y2="226.35"/><linearGradient id="h2_2" gradientUnits="userSpaceOnUse" x1="330.94" y1="0" x2="444.35" y2="0"><stop offset="0" stop-color="#402bb6"/><stop offset="0.854" stop-color="#3f28ae"/><stop offset="1" stop-color="#3f28ae"/></linearGradient><linearGradient id="v2_2" href="#h2_2" x1="0" y1="140.55" x2="0" y2="226.35"/><linearGradient id="h2_3" gradientUnits="userSpaceOnUse" x1="332.26" y1="0" x2="444.35" y2="0"><stop offset="0" stop-color="#412cba"/><stop offset="0.559" stop-color="#3f29b1"/><stop offset="1" stop-color="#3f29b1"/></linearGradient><linearGradient id="v2_3" href="#h2_3" x1="0" y1="141.54" x2="0" y2="226.35"/><linearGradient id="h2_4" gradientUnits="userSpaceOnUse" x1="333.57" y1="0" x2="444.35" y2="0"><stop offset="0" stop-color="#422ebf"/><stop offset="0.463" stop-color="#402ab5"/><stop offset="1" stop-color="#402ab3"/></linearGradient><linearGradient id="v2_4" href="#h2_4" x1="0" y1="142.54" x2="0" y2="226.35"/><linearGradient id="h2_5" gradientUnits="userSpaceOnUse" x1="334.89" y1="0" x2="444.35" y2="0"><stop offset="0" stop-color="#4230c4"/><stop offset="0.365" stop-color="#412cb9"/><stop offset="1" stop-color="#402bb6"/></linearGradient><linearGradient id="v2_5" href="#h2_5" x1="0" y1="143.54" x2="0" y2="226.35"/><linearGradient id="h2_6" gradientUnits="userSpaceOnUse" x1="336.21" y1="0" x2="444.35" y2="0"><stop offset="0" stop-color="#4332c9"/><stop offset="0.369" stop-color="#412ebe"/><stop offset="1" stop-color="#412dbb"/></linearGradient><linearGradient id="v2_6" href="#h2_6" x1="0" y1="144.54" x2="0" y2="226.35"/><linearGradient id="h2_7" gradientUnits="userSpaceOnUse" x1="337.53" y1="0" x2="444.35" y2="0"><stop offset="0" stop-color="#4434ce"/><stop offset="0.374" stop-color="#422fc2"/><stop offset="1" stop-color="#422ec0"/></linearGradient><linearGradient id="v2_7" href="#h2_7" x1="0" y1="145.53" x2="0" y2="226.35"/><linearGradient id="h2_8" gradientUnits="userSpaceOnUse" x1="338.85" y1="0" x2="444.35" y2="0"><stop offset="0" stop-color="#4536d3"/><stop offset="0.378" stop-color="#4331c7"/><stop offset="1" stop-color="#4330c4"/></linearGradient><linearGradient id="v2_8" href="#h2_8" x1="0" y1="146.53" x2="0" y2="226.35"/><linearGradient id="h2_9" gradientUnits="userSpaceOnUse" x1="340.17" y1="0" x2="444.35" y2="0"><stop offset="0" stop-color="#4538d7"/><stop offset="0.383" stop-color="#4433cc"/><stop offset="1" stop-color="#4332c9"/></linearGradient><linearGradient id="v2_9" href="#h2_9" x1="0" y1="147.53" x2="0" y2="226.35"/><linearGradient id="h2_10" gradientUnits="userSpaceOnUse" x1="341.49" y1="0" x2="444.35" y2="0"><stop offset="0" stop-color="#463adb"/><stop offset="0.388" stop-color="#4435d0"/><stop offset="1" stop-color="#4434ce"/></linearGradient><linearGradient id="v2_10" href="#h2_10" x1="0" y1="148.53" x2="0" y2="226.35"/><linearGradient id="h2_11" gradientUnits="userSpaceOnUse" x1="342.81" y1="0" x2="444.35" y2="0"><stop offset="0" stop-color="#463ddf"/><stop offset="0.393" stop-color="#4537d6"/><stop offset="1" stop-color="#4536d3"/></linearGradient><linearGradient id="v2_11" href="#h2_11" x1="0" y1="149.53" x2="0" y2="226.35"/><linearGradient id="h2_12" gradientUnits="userSpaceOnUse" x1="344.12" y1="0" x2="444.35" y2="0"><stop offset="0" stop-color="#4741e5"/><stop offset="0.398" stop-color="#463bdd"/><stop offset="1" stop-color="#463ada"/></linearGradient><linearGradient id="v2_12" href="#h2_12" x1="0" y1="150.52" x2="0" y2="226.35"/><linearGradient id="h2_13" gradientUnits="userSpaceOnUse" x1="345.44" y1="0" x2="444.35" y2="0"><stop offset="0" stop-color="#4745e9"/><stop offset="0.404" stop-color="#473fe2"/><stop offset="1" stop-color="#463de0"/></linearGradient><linearGradient id="v2_13" href="#h2_13" x1="0" y1="151.52" x2="0" y2="226.35"/><linearGradient id="h2_14" gradientUnits="userSpaceOnUse" x1="346.76" y1="0" x2="444.35" y2="0"><stop offset="0" stop-color="#484aed"/><stop offset="0.409" stop-color="#4743e7"/><stop offset="1" stop-color="#4742e6"/></linearGradient><linearGradient id="v2_14" href="#h2_14" x1="0" y1="152.52" x2="0" y2="226.35"/><linearGradient id="h2_15" gradientUnits="userSpaceOnUse" x1="348.08" y1="0" x2="444.35" y2="0"><stop offset="0" stop-color="#484ef1"/><stop offset="0.415" stop-color="#4747ec"/><stop offset="1" stop-color="#4746ea"/></linearGradient><linearGradient id="v2_15" href="#h2_15" x1="0" y1="153.52" x2="0" y2="226.35"/><linearGradient id="h2_16" gradientUnits="userSpaceOnUse" x1="349.4" y1="0" x2="444.35" y2="0"><stop offset="0" stop-color="#4852f4"/><stop offset="0.421" stop-color="#484cef"/><stop offset="1" stop-color="#484aee"/></linearGradient><linearGradient id="v2_16" href="#h2_16" x1="0" y1="154.51" x2="0" y2="226.35"/><linearGradient id="h2_17" gradientUnits="userSpaceOnUse" x1="350.72" y1="0" x2="444.35" y2="0"><stop offset="0" stop-color="#4757f7"/><stop offset="0.427" stop-color="#4850f2"/><stop offset="1" stop-color="#484ef1"/></linearGradient><linearGradient id="v2_17" href="#h2_17" x1="0" y1="155.51" x2="0" y2="226.35"/><linearGradient id="h2_18" gradientUnits="userSpaceOnUse" x1="352.04" y1="0" x2="444.35" y2="0"><stop offset="0" stop-color="#475bf9"/><stop offset="0.433" stop-color="#4854f5"/><stop offset="1" stop-color="#4853f4"/></linearGradient><linearGradient id="v2_18" href="#h2_18" x1="0" y1="156.51" x2="0" y2="226.35"/><linearGradient id="h2_19" gradientUnits="userSpaceOnUse" x1="353.36" y1="0" x2="444.35" y2="0"><stop offset="0" stop-color="#465ffb"/><stop offset="0.439" stop-color="#4758f8"/><stop offset="1" stop-color="#4757f7"/></linearGradient><linearGradient id="v2_19" href="#h2_19" x1="0" y1="157.51" x2="0" y2="226.35"/><linearGradient id="h2_20" gradientUnits="userSpaceOnUse" x1="354.68" y1="0" x2="444.35" y2="0"><stop offset="0" stop-color="#4564fd"/><stop offset="0.446" stop-color="#475dfa"/><stop offset="1" stop-color="#475bf9"/></linearGradient><linearGradient id="v2_20" href="#h2_20" x1="0" y1="158.5" x2="0" y2="226.35"/><linearGradient id="h2_21" gradientUnits="userSpaceOnUse" x1="355.99" y1="0" x2="444.35" y2="0"><stop offset="0" stop-color="#4368fe"/><stop offset="0.452" stop-color="#4561fc"/><stop offset="1" stop-color="#465ffb"/></linearGradient><linearGradient id="v2_21" href="#h2_21" x1="0" y1="159.5" x2="0" y2="226.35"/><linearGradient id="h2_22" gradientUnits="userSpaceOnUse" x1="357.31" y1="0" x2="444.35" y2="0"><stop offset="0" stop-color="#406dfe"/><stop offset="0.459" stop-color="#4465fd"/><stop offset="1" stop-color="#4564fd"/></linearGradient><linearGradient id="v2_22" href="#h2_22" x1="0" y1="160.5" x2="0" y2="226.35"/><linearGradient id="h2_23" gradientUnits="userSpaceOnUse" x1="358.63" y1="0" x2="444.35" y2="0"><stop offset="0" stop-color="#3c72ff"/><stop offset="0.466" stop-color="#426afe"/><stop offset="1" stop-color="#4369fe"/></linearGradient><linearGradient id="v2_23" href="#h2_23" x1="0" y1="161.5" x2="0" y2="226.35"/><linearGradient id="h2_24" gradientUnits="userSpaceOnUse" x1="359.95" y1="0" x2="444.35" y2="0"><stop offset="0" stop-color="#3677fe"/><stop offset="0.474" stop-color="#3e6fff"/><stop offset="1" stop-color="#3f6efe"/></linearGradient><linearGradient id="v2_24" href="#h2_24" x1="0" y1="162.5" x2="0" y2="226.35"/><linearGradient id="h2_25" gradientUnits="userSpaceOnUse" x1="361.27" y1="0" x2="444.35" y2="0"><stop offset="0" stop-color="#327dfc"/><stop offset="0.481" stop-color="#3975fe"/><stop offset="1" stop-color="#3a73fe"/></linearGradient><linearGradient id="v2_25" href="#h2_25" x1="0" y1="163.49" x2="0" y2="226.35"/><linearGradient id="h2_26" gradientUnits="userSpaceOnUse" x1="362.59" y1="0" x2="444.35" y2="0"><stop offset="0" stop-color="#2f82fa"/><stop offset="0.489" stop-color="#337afd"/><stop offset="1" stop-color="#3579fd"/></linearGradient><linearGradient id="v2_26" href="#h2_26" x1="0" y1="164.49" x2="0" y2="226.35"/><linearGradient id="h2_27" gradientUnits="userSpaceOnUse" x1="363.91" y1="0" x2="444.35" y2="0"><stop offset="0" stop-color="#2e86f7"/><stop offset="0.497" stop-color="#307ffb"/><stop offset="1" stop-color="#317efb"/></linearGradient><linearGradient id="v2_27" href="#h2_27" x1="0" y1="165.49" x2="0" y2="226.35"/><linearGradient id="h2_28" gradientUnits="userSpaceOnUse" x1="365.23" y1="0" x2="444.35" y2="0"><stop offset="0" stop-color="#2d8bf4"/><stop offset="0.506" stop-color="#2e84f8"/><stop offset="1" stop-color="#2e83f9"/></linearGradient><linearGradient id="v2_28" href="#h2_28" x1="0" y1="166.49" x2="0" y2="226.35"/><linearGradient id="h2_29" gradientUnits="userSpaceOnUse" x1="366.54" y1="0" x2="444.35" y2="0"><stop offset="0" stop-color="#2c90f0"/><stop offset="0.514" stop-color="#2d89f5"/><stop offset="1" stop-color="#2d88f6"/></linearGradient><linearGradient id="v2_29" href="#h2_29" x1="0" y1="167.48" x2="0" y2="226.35"/><linearGradient id="h2_30" gradientUnits="userSpaceOnUse" x1="367.86" y1="0" x2="444.35" y2="0"><stop offset="0" stop-color="#2994ed"/><stop offset="0.523" stop-color="#2d8df2"/><stop offset="1" stop-color="#2d8cf3"/></linearGradient><linearGradient id="v2_30" href="#h2_30" x1="0" y1="168.48" x2="0" y2="226.35"/><linearGradient id="h2_31" gradientUnits="userSpaceOnUse" x1="369.18" y1="0" x2="444.35" y2="0"><stop offset="0" stop-color="#2797ea"/><stop offset="0.532" stop-color="#2b91ef"/><stop offset="1" stop-color="#2c90f0"/></linearGradient><linearGradient id="v2_31" href="#h2_31" x1="0" y1="169.48" x2="0" y2="226.35"/><linearGradient id="h2_32" gradientUnits="userSpaceOnUse" x1="370.5" y1="0" x2="444.35" y2="0"><stop offset="0" stop-color="#259be8"/><stop offset="0.542" stop-color="#2895ec"/><stop offset="1" stop-color="#2994ed"/></linearGradient><linearGradient id="v2_32" href="#h2_32" x1="0" y1="170.48" x2="0" y2="226.35"/><linearGradient id="h2_33" gradientUnits="userSpaceOnUse" x1="371.82" y1="0" x2="444.35" y2="0"><stop offset="0" stop-color="#249ee6"/><stop offset="0.552" stop-color="#2698ea"/><stop offset="1" stop-color="#2797ea"/></linearGradient><linearGradient id="v2_33" href="#h2_33" x1="0" y1="171.48" x2="0" y2="226.35"/><linearGradient id="h2_34" gradientUnits="userSpaceOnUse" x1="373.14" y1="0" x2="444.35" y2="0"><stop offset="0" stop-color="#22a2e4"/><stop offset="0.562" stop-color="#259ce7"/><stop offset="1" stop-color="#259be8"/></linearGradient><linearGradient id="v2_34" href="#h2_34" x1="0" y1="172.47" x2="0" y2="226.35"/><linearGradient id="h2_35" gradientUnits="userSpaceOnUse" x1="374.46" y1="0" x2="444.35" y2="0"><stop offset="0" stop-color="#1fa5e2"/><stop offset="0.573" stop-color="#239fe5"/><stop offset="1" stop-color="#249ee6"/></linearGradient><linearGradient id="v2_35" href="#h2_35" x1="0" y1="173.47" x2="0" y2="226.35"/><linearGradient id="h2_36" gradientUnits="userSpaceOnUse" x1="375.78" y1="0" x2="444.35" y2="0"><stop offset="0" stop-color="#1da9e0"/><stop offset="0.584" stop-color="#21a3e3"/><stop offset="1" stop-color="#22a2e4"/></linearGradient><linearGradient id="v2_36" href="#h2_36" x1="0" y1="174.47" x2="0" y2="226.35"/><linearGradient id="h2_37" gradientUnits="userSpaceOnUse" x1="377.09" y1="0" x2="444.35" y2="0"><stop offset="0" stop-color="#1babde"/><stop offset="0.596" stop-color="#1fa6e2"/><stop offset="1" stop-color="#20a5e2"/></linearGradient><linearGradient id="v2_37" href="#h2_37" x1="0" y1="175.47" x2="0" y2="226.35"/><linearGradient id="h2_38" gradientUnits="userSpaceOnUse" x1="378.41" y1="0" x2="444.35" y2="0"><stop offset="0" stop-color="#19addc"/><stop offset="0.781" stop-color="#1da8e0"/><stop offset="1" stop-color="#1da8e0"/></linearGradient><linearGradient id="v2_38" href="#h2_38" x1="0" y1="176.46" x2="0" y2="226.35"/><linearGradient id="h2_39" gradientUnits="userSpaceOnUse" x1="379.73" y1="0" x2="444.35" y2="0"><stop offset="0" stop-color="#16afd9"/><stop offset="0.922" stop-color="#1babde"/><stop offset="1" stop-color="#1babde"/></linearGradient><linearGradient id="v2_39" href="#h2_39" x1="0" y1="177.46" x2="0" y2="226.35"/><linearGradient id="h2_40" gradientUnits="userSpaceOnUse" x1="381.05" y1="0" x2="444.35" y2="0"><stop offset="0" stop-color="#12b1d6"/><stop offset="1" stop-color="#17aeda"/></linearGradient><linearGradient id="v2_40" href="#h2_40" x1="0" y1="178.46" x2="0" y2="226.35"/><linearGradient id="h2_41" gradientUnits="userSpaceOnUse" x1="382.37" y1="0" x2="444.35" y2="0"><stop offset="0" stop-color="#02b7cb"/><stop offset="1" stop-color="#06b5cf"/></linearGradient><linearGradient id="v2_41" href="#h2_41" x1="0" y1="179.46" x2="0" y2="226.35"/><linearGradient id="h2_42" gradientUnits="userSpaceOnUse" x1="383.69" y1="0" x2="444.35" y2="0"><stop offset="0" stop-color="#03bbc2"/><stop offset="1" stop-color="#01bac5"/></linearGradient><linearGradient id="v2_42" href="#h2_42" x1="0" y1="180.45" x2="0" y2="226.35"/><linearGradient id="h2_43" gradientUnits="userSpaceOnUse" x1="385.01" y1="0" x2="444.35" y2="0"><stop offset="0" stop-color="#08bcbe"/><stop offset="1" stop-color="#04bbc1"/></linearGradient><linearGradient id="v2_43" href="#h2_43" x1="0" y1="181.45" x2="0" y2="226.35"/><linearGradient id="h2_44" gradientUnits="userSpaceOnUse" x1="386.32" y1="0" x2="444.35" y2="0"><stop offset="0" stop-color="#0fbeba"/><stop offset="1" stop-color="#0abdbd"/></linearGradient><linearGradient id="v2_44" href="#h2_44" x1="0" y1="182.45" x2="0" y2="226.35"/><linearGradient id="h2_45" gradientUnits="userSpaceOnUse" x1="387.64" y1="0" x2="444.35" y2="0"><stop offset="0" stop-color="#17bfb6"/><stop offset="1" stop-color="#11beb9"/></linearGradient><linearGradient id="v2_45" href="#h2_45" x1="0" y1="183.45" x2="0" y2="226.35"/><linearGradient id="h2_46" gradientUnits="userSpaceOnUse" x1="388.96" y1="0" x2="444.35" y2="0"><stop offset="0" stop-color="#1ec0b2"/><stop offset="1" stop-color="#19bfb5"/></linearGradient><linearGradient id="v2_46" href="#h2_46" x1="0" y1="184.45" x2="0" y2="226.35"/><linearGradient id="h2_47" gradientUnits="userSpaceOnUse" x1="390.28" y1="0" x2="444.35" y2="0"><stop offset="0" stop-color="#24c1ae"/><stop offset="1" stop-color="#1fc1b1"/></linearGradient><linearGradient id="v2_47" href="#h2_47" x1="0" y1="185.44" x2="0" y2="226.35"/><linearGradient id="h2_48" gradientUnits="userSpaceOnUse" x1="391.6" y1="0" x2="444.35" y2="0"><stop offset="0" stop-color="#29c3aa"/><stop offset="1" stop-color="#25c2ad"/></linearGradient><linearGradient id="v2_48" href="#h2_48" x1="0" y1="186.44" x2="0" y2="226.35"/><linearGradient id="h2_49" gradientUnits="userSpaceOnUse" x1="392.92" y1="0" x2="444.35" y2="0"><stop offset="0" stop-color="#2dc4a6"/><stop offset="1" stop-color="#2ac3a9"/></linearGradient><linearGradient id="v2_49" href="#h2_49" x1="0" y1="187.44" x2="0" y2="226.35"/><linearGradient id="h2_50" gradientUnits="userSpaceOnUse" x1="394.24" y1="0" x2="444.35" y2="0"><stop offset="0" stop-color="#30c5a1"/><stop offset="1" stop-color="#2ec4a4"/></linearGradient><linearGradient id="v2_50" href="#h2_50" x1="0" y1="188.44" x2="0" y2="226.35"/><linearGradient id="h2_51" gradientUnits="userSpaceOnUse" x1="395.56" y1="0" x2="444.35" y2="0"><stop offset="0" stop-color="#33c69d"/><stop offset="1" stop-color="#31c6a0"/></linearGradient><linearGradient id="v2_51" href="#h2_51" x1="0" y1="189.43" x2="0" y2="226.35"/><linearGradient id="h2_52" gradientUnits="userSpaceOnUse" x1="396.88" y1="0" x2="444.35" y2="0"><stop offset="0" stop-color="#36c898"/><stop offset="1" stop-color="#34c79b"/></linearGradient><linearGradient id="v2_52" href="#h2_52" x1="0" y1="190.43" x2="0" y2="226.35"/><linearGradient id="h2_53" gradientUnits="userSpaceOnUse" x1="398.19" y1="0" x2="444.35" y2="0"><stop offset="0" stop-color="#3bc993"/><stop offset="1" stop-color="#38c896"/></linearGradient><linearGradient id="v2_53" href="#h2_53" x1="0" y1="191.43" x2="0" y2="226.35"/><linearGradient id="h2_54" gradientUnits="userSpaceOnUse" x1="399.51" y1="0" x2="444.35" y2="0"><stop offset="0" stop-color="#3fca8e"/><stop offset="1" stop-color="#3dc991"/></linearGradient><linearGradient id="v2_54" href="#h2_54" x1="0" y1="192.43" x2="0" y2="226.35"/><linearGradient id="h2_55" gradientUnits="userSpaceOnUse" x1="400.83" y1="0" x2="444.35" y2="0"><stop offset="0" stop-color="#46cb88"/><stop offset="1" stop-color="#42ca8b"/></linearGradient><linearGradient id="v2_55" href="#h2_55" x1="0" y1="193.43" x2="0" y2="226.35"/><linearGradient id="h2_56" gradientUnits="userSpaceOnUse" x1="402.15" y1="0" x2="444.35" y2="0"><stop offset="0" stop-color="#4dcb82"/><stop offset="1" stop-color="#49cb85"/></linearGradient><linearGradient id="v2_56" href="#h2_56" x1="0" y1="194.42" x2="0" y2="226.35"/><linearGradient id="h2_57" gradientUnits="userSpaceOnUse" x1="403.47" y1="0" x2="444.35" y2="0"><stop offset="0" stop-color="#54cc7c"/><stop offset="1" stop-color="#50cc7f"/></linearGradient><linearGradient id="v2_57" href="#h2_57" x1="0" y1="195.42" x2="0" y2="226.35"/><linearGradient id="h2_58" gradientUnits="userSpaceOnUse" x1="404.79" y1="0" x2="444.35" y2="0"><stop offset="0" stop-color="#5bcc76"/><stop offset="1" stop-color="#58cc79"/></linearGradient><linearGradient id="v2_58" href="#h2_58" x1="0" y1="196.42" x2="0" y2="226.35"/><linearGradient id="h2_59" gradientUnits="userSpaceOnUse" x1="406.11" y1="0" x2="444.35" y2="0"><stop offset="0" stop-color="#63cd70"/><stop offset="1" stop-color="#5fcd73"/></linearGradient><linearGradient id="v2_59" href="#h2_59" x1="0" y1="197.42" x2="0" y2="226.35"/><linearGradient id="h2_60" gradientUnits="userSpaceOnUse" x1="407.43" y1="0" x2="444.35" y2="0"><stop offset="0" stop-color="#6bcd69"/><stop offset="1" stop-color="#68cd6c"/></linearGradient><linearGradient id="v2_60" href="#h2_60" x1="0" y1="198.41" x2="0" y2="226.35"/><linearGradient id="h2_61" gradientUnits="userSpaceOnUse" x1="408.74" y1="0" x2="444.35" y2="0"><stop offset="0" stop-color="#74cc62"/><stop offset="1" stop-color="#71cd64"/></linearGradient><linearGradient id="v2_61" href="#h2_61" x1="0" y1="199.41" x2="0" y2="226.35"/><linearGradient id="h2_62" gradientUnits="userSpaceOnUse" x1="410.06" y1="0" x2="444.35" y2="0"><stop offset="0" stop-color="#7ecc5b"/><stop offset="1" stop-color="#7acc5d"/></linearGradient><linearGradient id="v2_62" href="#h2_62" x1="0" y1="200.41" x2="0" y2="226.35"/><linearGradient id="h2_63" gradientUnits="userSpaceOnUse" x1="411.38" y1="0" x2="444.35" y2="0"><stop offset="0" stop-color="#87cb54"/><stop offset="1" stop-color="#84cc56"/></linearGradient><linearGradient id="v2_63" href="#h2_63" x1="0" y1="201.41" x2="0" y2="226.35"/><linearGradient id="h2_64" gradientUnits="userSpaceOnUse" x1="412.7" y1="0" x2="444.35" y2="0"><stop offset="0" stop-color="#aac73a"/><stop offset="1" stop-color="#a7c73c"/></linearGradient><linearGradient id="v2_64" href="#h2_64" x1="0" y1="202.4" x2="0" y2="226.35"/><linearGradient id="h2_66" gradientUnits="userSpaceOnUse" x1="415.34" y1="0" x2="444.35" y2="0"><stop offset="0" stop-color="#dcbd29"/><stop offset="0.944" stop-color="#dcbd29"/><stop offset="1" stop-color="#debc2a"/></linearGradient><linearGradient id="v2_66" href="#h2_66" x1="0" y1="204.4" x2="0" y2="226.35"/><linearGradient id="h2_67" gradientUnits="userSpaceOnUse" x1="416.66" y1="0" x2="444.35" y2="0"><stop offset="0" stop-color="#debc2a"/><stop offset="0.878" stop-color="#debd29"/><stop offset="1" stop-color="#e3bc2c"/></linearGradient><linearGradient id="v2_67" href="#h2_67" x1="0" y1="205.4" x2="0" y2="226.35"/><linearGradient id="h2_68" gradientUnits="userSpaceOnUse" x1="417.98" y1="0" x2="444.35" y2="0"><stop offset="0" stop-color="#e1bc2b"/><stop offset="0.872" stop-color="#e1bc2b"/><stop offset="1" stop-color="#e8bb2f"/></linearGradient><linearGradient id="v2_68" href="#h2_68" x1="0" y1="206.4" x2="0" y2="226.35"/><linearGradient id="h2_69" gradientUnits="userSpaceOnUse" x1="419.29" y1="0" x2="444.35" y2="0"><stop offset="0" stop-color="#e3bb2c"/><stop offset="0.865" stop-color="#e4bb2c"/><stop offset="1" stop-color="#edba33"/></linearGradient><linearGradient id="v2_69" href="#h2_69" x1="0" y1="207.39" x2="0" y2="226.35"/><linearGradient id="h2_70" gradientUnits="userSpaceOnUse" x1="420.61" y1="0" x2="444.35" y2="0"><stop offset="0" stop-color="#e6bb2d"/><stop offset="0.858" stop-color="#e7bb2e"/><stop offset="1" stop-color="#f1ba37"/></linearGradient><linearGradient id="v2_70" href="#h2_70" x1="0" y1="208.39" x2="0" y2="226.35"/><linearGradient id="h2_71" gradientUnits="userSpaceOnUse" x1="421.93" y1="0" x2="444.35" y2="0"><stop offset="0" stop-color="#e8bb2f"/><stop offset="0.771" stop-color="#e8bb2e"/><stop offset="1" stop-color="#f5ba3b"/></linearGradient><linearGradient id="v2_71" href="#h2_71" x1="0" y1="209.39" x2="0" y2="226.35"/><linearGradient id="h2_72" gradientUnits="userSpaceOnUse" x1="423.25" y1="0" x2="444.35" y2="0"><stop offset="0" stop-color="#ebba31"/><stop offset="0.756" stop-color="#eaba31"/><stop offset="1" stop-color="#f9bb3d"/></linearGradient><linearGradient id="v2_72" href="#h2_72" x1="0" y1="210.39" x2="0" y2="226.35"/><linearGradient id="h2_73" gradientUnits="userSpaceOnUse" x1="424.57" y1="0" x2="444.35" y2="0"><stop offset="0" stop-color="#edba33"/><stop offset="0.739" stop-color="#ecba33"/><stop offset="0.917" stop-color="#f6ba3b"/><stop offset="1" stop-color="#fcbc3d"/></linearGradient><linearGradient id="v2_73" href="#h2_73" x1="0" y1="211.38" x2="0" y2="226.35"/><linearGradient id="h2_74" gradientUnits="userSpaceOnUse" x1="425.89" y1="0" x2="444.35" y2="0"><stop offset="0" stop-color="#efba35"/><stop offset="0.764" stop-color="#f0ba36"/><stop offset="1" stop-color="#febe3c"/></linearGradient><linearGradient id="v2_74" href="#h2_74" x1="0" y1="212.38" x2="0" y2="226.35"/><linearGradient id="h2_75" gradientUnits="userSpaceOnUse" x1="427.21" y1="0" x2="444.35" y2="0"><stop offset="0" stop-color="#f1ba37"/><stop offset="0.698" stop-color="#f1ba37"/><stop offset="0.904" stop-color="#fbbc3d"/><stop offset="1" stop-color="#fec03b"/></linearGradient><linearGradient id="v2_75" href="#h2_75" x1="0" y1="213.38" x2="0" y2="226.35"/><linearGradient id="h2_76" gradientUnits="userSpaceOnUse" x1="428.52" y1="0" x2="444.35" y2="0"><stop offset="0" stop-color="#f3ba39"/><stop offset="0.671" stop-color="#f3ba39"/><stop offset="0.897" stop-color="#fdbd3d"/><stop offset="1" stop-color="#fec239"/></linearGradient><linearGradient id="v2_76" href="#h2_76" x1="0" y1="214.38" x2="0" y2="226.35"/><linearGradient id="h2_77" gradientUnits="userSpaceOnUse" x1="429.84" y1="0" x2="444.35" y2="0"><stop offset="0" stop-color="#f6ba3b"/><stop offset="0.696" stop-color="#f7ba3c"/><stop offset="1" stop-color="#fec537"/></linearGradient><linearGradient id="v2_77" href="#h2_77" x1="0" y1="215.38" x2="0" y2="226.35"/><linearGradient id="h2_78" gradientUnits="userSpaceOnUse" x1="431.16" y1="0" x2="444.35" y2="0"><stop offset="0" stop-color="#f9ba3d"/><stop offset="0.602" stop-color="#f9ba3d"/><stop offset="0.873" stop-color="#fec13a"/><stop offset="1" stop-color="#fec835"/></linearGradient><linearGradient id="v2_78" href="#h2_78" x1="0" y1="216.37" x2="0" y2="226.35"/><linearGradient id="h2_79" gradientUnits="userSpaceOnUse" x1="432.48" y1="0" x2="444.35" y2="0"><stop offset="0" stop-color="#fbbc3d"/><stop offset="0.607" stop-color="#fbbc3d"/><stop offset="0.859" stop-color="#fec438"/><stop offset="1" stop-color="#fdcb33"/></linearGradient><linearGradient id="v2_79" href="#h2_79" x1="0" y1="217.37" x2="0" y2="226.35"/><linearGradient id="h2_80" gradientUnits="userSpaceOnUse" x1="433.8" y1="0" x2="444.35" y2="0"><stop offset="0" stop-color="#fdbd3d"/><stop offset="0.496" stop-color="#fdbd3d"/><stop offset="0.84" stop-color="#fec636"/><stop offset="1" stop-color="#fdce31"/></linearGradient><linearGradient id="v2_80" href="#h2_80" x1="0" y1="218.37" x2="0" y2="226.35"/><linearGradient id="h2_81" gradientUnits="userSpaceOnUse" x1="435.12" y1="0" x2="444.35" y2="0"><stop offset="0" stop-color="#febf3c"/><stop offset="0.529" stop-color="#fec03b"/><stop offset="1" stop-color="#fbd12f"/></linearGradient><linearGradient id="v2_81" href="#h2_81" x1="0" y1="219.37" x2="0" y2="226.35"/><linearGradient id="h2_82" gradientUnits="userSpaceOnUse" x1="436.44" y1="0" x2="444.35" y2="0"><stop offset="0" stop-color="#fec339"/><stop offset="0.391" stop-color="#fec338"/><stop offset="0.781" stop-color="#fdce31"/><stop offset="1" stop-color="#f9d72d"/></linearGradient><linearGradient id="v2_82" href="#h2_82" x1="0" y1="220.36" x2="0" y2="226.35"/><linearGradient id="h2_83" gradientUnits="userSpaceOnUse" x1="437.76" y1="0" x2="444.35" y2="0"><stop offset="0" stop-color="#fec735"/><stop offset="0.229" stop-color="#fec735"/><stop offset="0.764" stop-color="#fad42e"/><stop offset="1" stop-color="#f7dc2a"/></linearGradient><linearGradient id="v2_83" href="#h2_83" x1="0" y1="221.36" x2="0" y2="226.35"/><linearGradient id="h2_84" gradientUnits="userSpaceOnUse" x1="439.08" y1="0" x2="444.35" y2="0"><stop offset="0" stop-color="#fdcc32"/><stop offset="0.656" stop-color="#f9d82c"/><stop offset="1" stop-color="#f5e227"/></linearGradient><linearGradient id="v2_84" href="#h2_84" x1="0" y1="222.36" x2="0" y2="226.35"/><linearGradient id="h2_85" gradientUnits="userSpaceOnUse" x1="440.39" y1="0" x2="444.35" y2="0"><stop offset="0" stop-color="#f7dd2a"/><stop offset="1" stop-color="#f6ef20"/></linearGradient><linearGradient id="v2_85" href="#h2_85" x1="0" y1="223.36" x2="0" y2="226.35"/><linearGradient id="h2_86" gradientUnits="userSpaceOnUse" x1="441.71" y1="0" x2="444.35" y2="0"><stop offset="0" stop-color="#f5ed22"/><stop offset="1" stop-color="#f7f61a"/></linearGradient><linearGradient id="v2_86" href="#h2_86" x1="0" y1="224.35" x2="0" y2="226.35"/></defs>
<rect x="326.8" y="137.05" width="119.05" height="90.8" fill="#3e27ab"/>
<rect x="329.62" y="139.55" width="116.23" height="88.3" fill="url(#h2_1)"/>
<rect x="329.62" y="140.55" width="2.64" height="86.8" fill="url(#v2_1)"/>
<rect x="330.94" y="140.55" width="114.91" height="87.3" fill="url(#h2_2)"/>
<rect x="330.94" y="141.54" width="2.64" height="85.81" fill="url(#v2_2)"/>
<rect x="332.26" y="141.54" width="113.59" height="86.31" fill="url(#h2_3)"/>
<rect x="332.26" y="142.54" width="2.64" height="84.81" fill="url(#v2_3)"/>
<rect x="333.57" y="142.54" width="112.28" height="85.31" fill="url(#h2_4)"/>
<rect x="333.57" y="143.54" width="2.64" height="83.81" fill="url(#v2_4)"/>
<rect x="334.89" y="143.54" width="110.96" height="84.31" fill="url(#h2_5)"/>
<rect x="334.89" y="144.54" width="2.64" height="82.81" fill="url(#v2_5)"/>
<rect x="336.21" y="144.54" width="109.64" height="83.31" fill="url(#h2_6)"/>
<rect x="336.21" y="145.53" width="2.64" height="81.82" fill="url(#v2_6)"/>
<rect x="337.53" y="145.53" width="108.32" height="82.32" fill="url(#h2_7)"/>
<rect x="337.53" y="146.53" width="2.64" height="80.82" fill="url(#v2_7)"/>
<rect x="338.85" y="146.53" width="107" height="81.32" fill="url(#h2_8)"/>
<rect x="338.85" y="147.53" width="2.64" height="79.82" fill="url(#v2_8)"/>
<rect x="340.17" y="147.53" width="105.68" height="80.32" fill="url(#h2_9)"/>
<rect x="340.17" y="148.53" width="2.64" height="78.82" fill="url(#v2_9)"/>
<rect x="341.49" y="148.53" width="104.36" height="79.32" fill="url(#h2_10)"/>
<rect x="341.49" y="149.53" width="2.64" height="77.82" fill="url(#v2_10)"/>
<rect x="342.81" y="149.53" width="103.04" height="78.32" fill="url(#h2_11)"/>
<rect x="342.81" y="150.52" width="2.64" height="76.83" fill="url(#v2_11)"/>
<rect x="344.12" y="150.52" width="101.73" height="77.33" fill="url(#h2_12)"/>
<rect x="344.12" y="151.52" width="2.64" height="75.83" fill="url(#v2_12)"/>
<rect x="345.44" y="151.52" width="100.41" height="76.33" fill="url(#h2_13)"/>
<rect x="345.44" y="152.52" width="2.64" height="74.83" fill="url(#v2_13)"/>
<rect x="346.76" y="152.52" width="99.09" height="75.33" fill="url(#h2_14)"/>
<rect x="346.76" y="153.52" width="2.64" height="73.83" fill="url(#v2_14)"/>
<rect x="348.08" y="153.52" width="97.77" height="74.33" fill="url(#h2_15)"/>
<rect x="348.08" y="154.51" width="2.64" height="72.84" fill="url(#v2_15)"/>
<rect x="349.4" y="154.51" width="96.45" height="73.34" fill="url(#h2_16)"/>
<rect x="349.4" y="155.51" width="2.64" height="71.84" fill="url(#v2_16)"/>
<rect x="350.72" y="155.51" width="95.13" height="72.34" fill="url(#h2_17)"/>
<rect x="350.72" y="156.51" width="2.64" height="70.84" fill="url(#v2_17)"/>
<rect x="352.04" y="156.51" width="93.81" height="71.34" fill="url(#h2_18)"/>
<rect x="352.04" y="157.51" width="2.64" height="69.84" fill="url(#v2_18)"/>
<rect x="353.36" y="157.51" width="92.49" height="70.34" fill="url(#h2_19)"/>
<rect x="353.36" y="158.5" width="2.64" height="68.85" fill="url(#v2_19)"/>
<rect x="354.68" y="158.5" width="91.18" height="69.35" fill="url(#h2_20)"/>
<rect x="354.68" y="159.5" width="2.64" height="67.85" fill="url(#v2_20)"/>
<rect x="355.99" y="159.5" width="89.86" height="68.35" fill="url(#h2_21)"/>
<rect x="355.99" y="160.5" width="2.64" height="66.85" fill="url(#v2_21)"/>
<rect x="357.31" y="160.5" width="88.54" height="67.35" fill="url(#h2_22)"/>
<rect x="357.31" y="161.5" width="2.64" height="65.85" fill="url(#v2_22)"/>
<rect x="358.63" y="161.5" width="87.22" height="66.35" fill="url(#h2_23)"/>
<rect x="358.63" y="162.5" width="2.64" height="64.85" fill="url(#v2_23)"/>
<rect x="359.95" y="162.5" width="85.9" height="65.35" fill="url(#h2_24)"/>
<rect x="359.95" y="163.49" width="2.64" height="63.86" fill="url(#v2_24)"/>
<rect x="361.27" y="163.49" width="84.58" height="64.36" fill="url(#h2_25)"/>
<rect x="361.27" y="164.49" width="2.64" height="62.86" fill="url(#v2_25)"/>
<rect x="362.59" y="164.49" width="83.26" height="63.36" fill="url(#h2_26)"/>
<rect x="362.59" y="165.49" width="2.64" height="61.86" fill="url(#v2_26)"/>
<rect x="363.91" y="165.49" width="81.94" height="62.36" fill="url(#h2_27)"/>
<rect x="363.91" y="166.49" width="2.64" height="60.86" fill="url(#v2_27)"/>
<rect x="365.23" y="166.49" width="80.62" height="61.36" fill="url(#h2_28)"/>
<rect x="365.23" y="167.48" width="2.64" height="59.87" fill="url(#v2_28)"/>
<rect x="366.54" y="167.48" width="79.31" height="60.37" fill="url(#h2_29)"/>
<rect x="366.54" y="168.48" width="2.64" height="58.87" fill="url(#v2_29)"/>
<rect x="367.86" y="168.48" width="77.99" height="59.37" fill="url(#h2_30)"/>
<rect x="367.86" y="169.48" width="2.64" height="57.87" fill="url(#v2_30)"/>
<rect x="369.18" y="169.48" width="76.67" height="58.37" fill="url(#h2_31)"/>
<rect x="369.18" y="170.48" width="2.64" height="56.87" fill="url(#v2_31)"/>
<rect x="370.5" y="170.48" width="75.35" height="57.37" fill="url(#h2_32)"/>
<rect x="370.5" y="171.48" width="2.64" height="55.87" fill="url(#v2_32)"/>
<rect x="371.82" y="171.48" width="74.03" height="56.37" fill="url(#h2_33)"/>
<rect x="371.82" y="172.47" width="2.64" height="54.88" fill="url(#v2_33)"/>
<rect x="373.14" y="172.47" width="72.71" height="55.38" fill="url(#h2_34)"/>
<rect x="373.14" y="173.47" width="2.64" height="53.88" fill="url(#v2_34)"/>
<rect x="374.46" y="173.47" width="71.39" height="54.38" fill="url(#h2_35)"/>
<rect x="374.46" y="174.47" width="2.64" height="52.88" fill="url(#v2_35)"/>
<rect x="375.78" y="174.47" width="70.07" height="53.38" fill="url(#h2_36)"/>
<rect x="375.78" y="175.47" width="2.64" height="51.88" fill="url(#v2_36)"/>
<rect x="377.09" y="175.47" width="68.76" height="52.38" fill="url(#h2_37)"/>
<rect x="377.09" y="176.46" width="2.64" height="50.89" fill="url(#v2_37)"/>
<rect x="378.41" y="176.46" width="67.44" height="51.39" fill="url(#h2_38)"/>
<rect x="378.41" y="177.46" width="2.64" height="49.89" fill="url(#v2_38)"/>
<rect x="379.73" y="177.46" width="66.12" height="50.39" fill="url(#h2_39)"/>
<rect x="379.73" y="178.46" width="2.64" height="48.89" fill="url(#v2_39)"/>
<rect x="381.05" y="178.46" width="64.8" height="49.39" fill="url(#h2_40)"/>
<rect x="381.05" y="179.46" width="2.64" height="47.89" fill="url(#v2_40)"/>
<rect x="382.37" y="179.46" width="63.48" height="48.39" fill="url(#h2_41)"/>
<rect x="382.37" y="180.45" width="2.64" height="46.9" fill="url(#v2_41)"/>
<rect x="383.69" y="180.45" width="62.16" height="47.4" fill="url(#h2_42)"/>
<rect x="383.69" y="181.45" width="2.64" height="45.9" fill="url(#v2_42)"/>
<rect x="385.01" y="181.45" width="60.84" height="46.4" fill="url(#h2_43)"/>
<rect x="385.01" y="182.45" width="2.64" height="44.9" fill="url(#v2_43)"/>
<rect x="386.32" y="182.45" width="59.53" height="45.4" fill="url(#h2_44)"/>
<rect x="386.32" y="183.45" width="2.64" height="43.9" fill="url(#v2_44)"/>
<rect x="387.64" y="183.45" width="58.21" height="44.4" fill="url(#h2_45)"/>
<rect x="387.64" y="184.45" width="2.64" height="42.9" fill="url(#v2_45)"/>
<rect x="388.96" y="184.45" width="56.89" height="43.4" fill="url(#h2_46)"/>
<rect x="388.96" y="185.44" width="2.64" height="41.91" fill="url(#v2_46)"/>
<rect x="390.28" y="185.44" width="55.57" height="42.41" fill="url(#h2_47)"/>
<rect x="390.28" y="186.44" width="2.64" height="40.91" fill="url(#v2_47)"/>
<rect x="391.6" y="186.44" width="54.25" height="41.41" fill="url(#h2_48)"/>
<rect x="391.6" y="187.44" width="2.64" height="39.91" fill="url(#v2_48)"/>
<rect x="392.92" y="187.44" width="52.93" height="40.41" fill="url(#h2_49)"/>
<rect x="392.92" y="188.44" width="2.64" height="38.91" fill="url(#v2_49)"/>
<rect x="394.24" y="188.44" width="51.61" height="39.41" fill="url(#h2_50)"/>
<rect x="394.24" y="189.43" width="2.64" height="37.92" fill="url(#v2_50)"/>
<rect x="395.56" y="189.43" width="50.29" height="38.42" fill="url(#h2_51)"/>
<rect x="395.56" y="190.43" width="2.64" height="36.92" fill="url(#v2_51)"/>
<rect x="396.88" y="190.43" width="48.98" height="37.42" fill="url(#h2_52)"/>
<rect x="396.88" y="191.43" width="2.64" height="35.92" fill="url(#v2_52)"/>
<rect x="398.19" y="191.43" width="47.66" height="36.42" fill="url(#h2_53)"/>
<rect x="398.19" y="192.43" width="2.64" height="34.92" fill="url(#v2_53)"/>
<rect x="399.51" y="192.43" width="46.34" height="35.42" fill="url(#h2_54)"/>
<rect x="399.51" y="193.43" width="2.64" height="33.92" fill="url(#v2_54)"/>
<rect x="400.83" y="193.43" width="45.02" height="34.42" fill="url(#h2_55)"/>
<rect x="400.83" y="194.42" width="2.64" height="32.93" fill="url(#v2_55)"/>
<rect x="402.15" y="194.42" width="43.7" height="33.43" fill="url(#h2_56)"/>
<rect x="402.15" y="195.42" width="2.64" height="31.93" fill="url(#v2_56)"/>
<rect x="403.47" y="195.42" width="42.38" height="32.43" fill="url(#h2_57)"/>
<rect x="403.47" y="196.42" width="2.64" height="30.93" fill="url(#v2_57)"/>
<rect x="404.79" y="196.42" width="41.06" height="31.43" fill="url(#h2_58)"/>
<rect x="404.79" y="197.42" width="2.64" height="29.93" fill="url(#v2_58)"/>
<rect x="406.11" y="197.42" width="39.74" height="30.43" fill="url(#h2_59)"/>
<rect x="406.11" y="198.41" width="2.64" height="28.94" fill="url(#v2_59)"/>
<rect x="407.43" y="198.41" width="38.43" height="29.44" fill="url(#h2_60)"/>
<rect x="407.43" y="199.41" width="2.64" height="27.94" fill="url(#v2_60)"/>
<rect x="408.74" y="199.41" width="37.11" height="28.44" fill="url(#h2_61)"/>
<rect x="408.74" y="200.41" width="2.64" height="26.94" fill="url(#v2_61)"/>
<rect x="410.06" y="200.41" width="35.79" height="27.44" fill="url(#h2_62)"/>
<rect x="410.06" y="201.41" width="2.64" height="25.94" fill="url(#v2_62)"/>
<rect x="411.38" y="201.41" width="34.47" height="26.44" fill="url(#h2_63)"/>
<rect x="411.38" y="202.4" width="2.64" height="24.95" fill="url(#v2_63)"/>
<rect x="412.7" y="202.4" width="33.15" height="25.45" fill="url(#h2_64)"/>
<rect x="412.7" y="203.4" width="2.64" height="23.95" fill="url(#v2_64)"/>
<rect x="414.02" y="203.4" width="31.83" height="24.45" fill="#cbc029"/>
<rect x="415.34" y="204.4" width="30.51" height="23.45" fill="url(#h2_66)"/>
<rect x="415.34" y="205.4" width="2.64" height="21.95" fill="url(#v2_66)"/>
<rect x="416.66" y="205.4" width="29.19" height="22.45" fill="url(#h2_67)"/>
<rect x="416.66" y="206.4" width="2.64" height="20.95" fill="url(#v2_67)"/>
<rect x="417.98" y="206.4" width="27.88" height="21.45" fill="url(#h2_68)"/>
<rect x="417.98" y="207.39" width="2.64" height="19.96" fill="url(#v2_68)"/>
<rect x="419.29" y="207.39" width="26.56" height="20.46" fill="url(#h2_69)"/>
<rect x="419.29" y="208.39" width="2.64" height="18.96" fill="url(#v2_69)"/>
<rect x="420.61" y="208.39" width="25.24" height="19.46" fill="url(#h2_70)"/>
<rect x="420.61" y="209.39" width="2.64" height="17.96" fill="url(#v2_70)"/>
<rect x="421.93" y="209.39" width="23.92" height="18.46" fill="url(#h2_71)"/>
<rect x="421.93" y="210.39" width="2.64" height="16.96" fill="url(#v2_71)"/>
<rect x="423.25" y="210.39" width="22.6" height="17.46" fill="url(#h2_72)"/>
<rect x="423.25" y="211.38" width="2.64" height="15.97" fill="url(#v2_72)"/>
<rect x="424.57" y="211.38" width="21.28" height="16.47" fill="url(#h2_73)"/>
<rect x="424.57" y="212.38" width="2.64" height="14.97" fill="url(#v2_73)"/>
<rect x="425.89" y="212.38" width="19.96" height="15.47" fill="url(#h2_74)"/>
<rect x="425.89" y="213.38" width="2.64" height="13.97" fill="url(#v2_74)"/>
<rect x="427.21" y="213.38" width="18.64" height="14.47" fill="url(#h2_75)"/>
<rect x="427.21" y="214.38" width="2.64" height="12.97" fill="url(#v2_75)"/>
<rect x="428.52" y="214.38" width="17.33" height="13.47" fill="url(#h2_76)"/>
<rect x="428.52" y="215.38" width="2.64" height="11.97" fill="url(#v2_76)"/>
<rect x="429.84" y="215.38" width="16.01" height="12.47" fill="url(#h2_77)"/>
<rect x="429.84" y="216.37" width="2.64" height="10.98" fill="url(#v2_77)"/>
<rect x="431.16" y="216.37" width="14.69" height="11.48" fill="url(#h2_78)"/>
<rect x="431.16" y="217.37" width="2.64" height="9.98" fill="url(#v2_78)"/>
<rect x="432.48" y="217.37" width="13.37" height="10.48" fill="url(#h2_79)"/>
<rect x="432.48" y="218.37" width="2.64" height="8.98" fill="url(#v2_79)"/>
<rect x="433.8" y="218.37" width="12.05" height="9.48" fill="url(#h2_80)"/>
<rect x="433.8" y="219.37" width="2.64" height="7.98" fill="url(#v2_80)"/>
<rect x="435.12" y="219.37" width="10.73" height="8.48" fill="url(#h2_81)"/>
<rect x="435.12" y="220.36" width="2.64" height="6.99" fill="url(#v2_81)"/>
<rect x="436.44" y="220.36" width="9.41" height="7.49" fill="url(#h2_82)"/>
<rect x="436.44" y="221.36" width="2.64" height="5.99" fill="url(#v2_82)"/>
<rect x="437.76" y="221.36" width="8.09" height="6.49" fill="url(#h2_83)"/>
<rect x="437.76" y="222.36" width="2.64" height="4.99" fill="url(#v2_83)"/>
<rect x="439.08" y="222.36" width="6.77" height="5.49" fill="url(#h2_84)"/>
<rect x="439.08" y="223.36" width="2.64" height="3.99" fill="url(#v2_84)"/>
<rect x="440.39" y="223.36" width="5.46" height="4.49" fill="url(#h2_85)"/>
<rect x="440.39" y="224.35" width="2.64" height="3" fill="url(#v2_85)"/>
<rect x="441.71" y="224.35" width="4.14" height="3.5" fill="url(#h2_86)"/>
<rect x="441.71" y="225.35" width="2.64" height="2" fill="url(#v2_86)"/>
<rect x="443.03" y="225.35" width="2.82" height="2.5" fill="#f7f31d"/>
</g>
<path d="M325.3 135.55H447.35V229.35H325.3ZM328.3 138.55V226.35H444.35V138.55Z" fill="#fff" fill-rule="evenodd"/>
<path d="M328.3 226.35H444.35V138.55" fill="none" stroke="#262626" stroke-opacity="0.45" stroke-width="0.5"/>
<text x="350.91" y="234.75" transform="rotate(0.1 350.91 234.75)" text-anchor="middle">200</text>
<text x="326.1" y="158.06" transform="rotate(0.1 326.1 158.06)" text-anchor="end">200</text>
<text x="373.58" y="234.75" transform="rotate(0.1 373.58 234.75)" text-anchor="middle">400</text>
<text x="326.1" y="175.2" transform="rotate(0.1 326.1 175.2)" text-anchor="end">400</text>
<text x="396.24" y="234.75" transform="rotate(0.1 396.24 234.75)" text-anchor="middle">600</text>
<text x="326.1" y="192.35" transform="rotate(0.1 326.1 192.35)" text-anchor="end">600</text>
<text x="418.91" y="234.75" transform="rotate(0.1 418.91 234.75)" text-anchor="middle">800</text>
<text x="326.1" y="209.5" transform="rotate(0.1 326.1 209.5)" text-anchor="end">800</text>
<text x="441.57" y="234.75" transform="rotate(0.1 441.57 234.75)" text-anchor="middle">1000</text>
<text x="326.1" y="226.65" transform="rotate(0.1 326.1 226.65)" text-anchor="end">1000</text>
<path d="M350.91 226.35v-1.2M350.91 138.55v1.2M328.3 155.66h1.2M444.35 155.66h-1.2M373.58 226.35v-1.2M373.58 138.55v1.2M328.3 172.8h1.2M444.35 172.8h-1.2M396.24 226.35v-1.2M396.24 138.55v1.2M328.3 189.95h1.2M444.35 189.95h-1.2M418.91 226.35v-1.2M418.91 138.55v1.2M328.3 207.1h1.2M444.35 207.1h-1.2M441.57 226.35v-1.2M441.57 138.55v1.2M328.3 224.25h1.2M444.35 224.25h-1.2" stroke="#262626" stroke-width="0.5" stroke-opacity="0.6" fill="none"/>
<text x="385.93" y="241.45" transform="rotate(0.1 385.93 241.45)" text-anchor="middle" font-size="6.4" font-family="Liberation Serif, serif" font-style="italic" fill="#484848" stroke="none">t<tspan font-size="4.6" dx="0.4" dy="1.5">j</tspan></text>
<text transform="translate(309.1 182.05) rotate(-89.9)" text-anchor="middle" font-size="6.4" font-family="Liberation Serif, serif" font-style="italic" fill="#484848" stroke="none">t<tspan font-size="4.6" dx="0.4" dy="1.5">i</tspan></text>
<text x="386.47" y="136.25" transform="rotate(0.1 386.47 136.25)" text-anchor="middle" font-size="6.25" font-weight="bold" fill="#000">Uniform</text>
</svg>
</body></html>
